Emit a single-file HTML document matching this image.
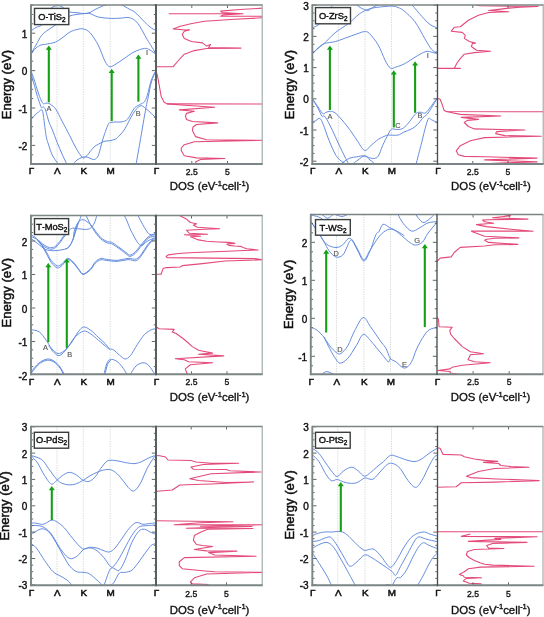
<!DOCTYPE html>
<html><head><meta charset="utf-8"><style>
html,body{margin:0;padding:0;background:#fff;}
body{width:544px;height:617px;position:relative;overflow:hidden;}
</style></head><body>
<svg width="544" height="617" viewBox="0 0 544 617" style="position:absolute;left:0;top:0;filter:blur(0.3px)">
<rect width="544" height="617" fill="#fff"/>
<clipPath id="cbA"><rect x="31.0" y="5.0" width="125.0" height="159.0"/></clipPath>
<clipPath id="cdA"><rect x="156.0" y="5.0" width="106.2" height="159.0"/></clipPath>
<line x1="57.0" y1="5.0" x2="57.0" y2="164.0" stroke="#cdd3d3" stroke-width="0.9" stroke-dasharray="1.2,1.2"/>
<line x1="83.3" y1="5.0" x2="83.3" y2="164.0" stroke="#cdd3d3" stroke-width="0.9" stroke-dasharray="1.2,1.2"/>
<line x1="110.2" y1="5.0" x2="110.2" y2="164.0" stroke="#cdd3d3" stroke-width="0.9" stroke-dasharray="1.2,1.2"/>
<g clip-path="url(#cbA)" fill="none" stroke="#628ade" stroke-width="0.98" stroke-linecap="round" stroke-linejoin="round">
<path d="M31.0,53.8 C31.8,52.8 34.3,49.5 36.0,48.0 C37.7,46.5 39.4,45.6 41.0,45.0 C42.6,44.4 43.3,44.8 45.7,44.3 C48.1,43.8 52.5,43.2 55.2,42.2 C57.9,41.2 59.5,39.7 62.0,38.0 C64.5,36.3 67.5,33.4 70.0,32.0 C72.5,30.6 74.8,30.0 77.0,29.5 C79.2,29.0 81.0,28.4 83.2,28.9 C85.4,29.4 87.5,30.0 90.0,32.7 C92.5,35.4 95.7,40.2 98.2,45.0 C100.7,49.8 103.1,57.7 105.0,61.3 C106.9,64.9 108.0,66.3 109.8,66.8 C111.6,67.2 113.6,65.4 116.0,64.0 C118.4,62.6 121.0,60.6 124.0,58.6 C127.0,56.6 130.6,53.7 134.0,52.0 C137.4,50.3 141.8,48.7 144.5,48.4 C147.2,48.1 148.1,49.0 150.0,50.0 C151.9,51.0 155.1,53.8 156.1,54.5"/>
<path d="M31.0,31.0 C31.8,30.4 34.2,28.5 36.0,27.5 C37.8,26.5 39.9,26.6 41.6,25.2 C43.3,23.8 44.7,21.3 46.0,19.0 C47.3,16.7 48.5,13.4 49.5,11.5 C50.5,9.6 50.7,8.4 52.0,7.4 C53.3,6.4 55.6,5.8 57.3,5.7 C59.0,5.6 60.1,5.8 62.0,6.8 C63.9,7.8 66.3,10.6 68.6,11.6 C70.9,12.6 73.4,12.3 76.0,12.6 C78.6,12.9 81.7,13.4 84.0,13.6 C86.3,13.8 87.6,13.0 90.0,13.6 C92.4,14.2 94.8,16.2 98.2,17.0 C101.6,17.8 106.8,18.2 110.4,18.4 C114.0,18.6 116.8,18.3 120.0,18.2 C123.2,18.1 126.5,16.9 129.5,17.7 C132.4,18.5 134.8,19.6 137.7,23.2 C140.6,26.8 144.1,34.4 147.2,39.5 C150.3,44.6 154.6,51.4 156.1,53.8"/>
<path d="M31.0,53.8 C31.8,52.3 34.2,48.1 36.0,45.0 C37.8,41.9 39.6,37.9 41.6,35.4 C43.6,32.9 45.7,31.7 48.0,30.0 C50.3,28.3 52.9,26.9 55.2,25.2 C57.5,23.5 59.7,21.5 62.0,20.0 C64.3,18.5 66.6,17.2 68.9,16.3 C71.2,15.4 73.5,14.9 76.0,14.5 C78.5,14.1 81.7,13.9 84.0,13.6 C86.3,13.3 88.2,13.2 90.0,12.5 C91.8,11.8 93.2,10.4 95.0,9.5 C96.8,8.6 99.4,7.5 100.9,6.8 C102.4,6.1 102.9,5.9 104.0,5.5 C105.1,5.1 107.1,4.8 107.7,4.6"/>
<path d="M120.0,4.2 C120.5,4.4 121.2,4.5 122.7,5.3 C124.2,6.1 127.0,7.8 129.0,9.0 C131.1,10.2 132.4,10.2 135.0,12.3 C137.6,14.4 142.0,19.4 144.5,21.8 C147.0,24.2 148.1,25.5 150.0,27.0 C151.9,28.5 155.0,30.1 156.0,30.7"/>
<path d="M31.0,70.6 C31.2,71.3 31.9,73.4 32.5,75.0 C33.0,76.6 33.4,77.2 34.3,80.0 C35.2,82.8 36.9,88.7 38.0,92.0 C39.1,95.3 40.1,98.0 41.0,100.0 C41.9,102.0 42.5,103.2 43.3,103.7 C44.1,104.2 45.1,103.2 46.0,103.2 C46.9,103.2 47.9,103.0 48.9,103.4 C49.9,103.8 50.8,104.5 52.0,105.5 C53.2,106.5 54.2,106.7 55.9,109.3 C57.6,111.9 59.7,116.6 62.0,121.0 C64.3,125.4 67.5,131.3 69.8,135.8 C72.1,140.3 73.9,144.4 76.0,148.0 C78.1,151.6 80.7,156.0 82.4,157.4 C84.1,158.8 84.7,157.4 86.0,156.5 C87.3,155.6 88.7,153.4 90.0,151.8 C91.3,150.2 92.6,148.3 94.0,147.0 C95.4,145.7 96.7,145.1 98.4,144.2 C100.1,143.3 102.2,142.0 104.0,141.4 C105.8,140.8 107.7,141.0 109.5,140.7 C111.3,140.3 113.3,140.2 115.1,139.3 C116.8,138.4 118.4,136.8 120.0,135.0 C121.6,133.2 122.7,132.4 124.9,128.8 C127.1,125.2 130.6,117.3 133.2,113.5 C135.8,109.7 138.1,106.6 140.2,105.8 C142.3,105.0 143.9,107.3 145.8,108.6 C147.7,109.9 149.7,111.9 151.4,113.5 C153.1,115.1 155.2,117.2 156.0,118.0"/>
<path d="M72.6,164.5 C73.3,163.8 75.4,161.2 77.0,160.0 C78.6,158.8 80.9,157.9 82.4,157.4 C83.9,156.9 84.7,156.7 86.0,156.8 C87.3,156.9 88.6,157.8 90.0,158.2 C91.4,158.6 92.8,160.0 94.2,159.5 C95.6,159.0 97.0,158.6 98.4,155.3 C99.8,152.1 101.0,145.1 102.6,140.0 C104.2,134.9 106.7,127.5 108.1,124.6 C109.5,121.7 109.6,122.9 110.9,122.5 C112.2,122.1 114.1,122.1 116.0,122.0 C117.9,121.9 120.1,122.3 122.1,121.8 C124.0,121.3 125.6,121.3 127.7,119.0 C129.8,116.7 132.5,110.3 134.6,107.9 C136.7,105.5 138.3,105.8 140.2,104.4 C142.1,103.0 143.9,103.6 145.8,99.5 C147.7,95.4 149.7,84.8 151.4,80.0 C153.1,75.2 155.2,72.2 156.0,70.6"/>
<path d="M136.0,164.5 C136.7,160.8 138.5,150.6 140.0,142.0 C141.5,133.4 143.7,120.3 145.0,113.0 C146.3,105.7 146.9,103.2 148.0,98.0 C149.1,92.8 150.1,86.6 151.4,82.0 C152.7,77.4 155.2,72.5 156.0,70.6"/>
<path d="M31.0,70.6 C31.2,71.8 31.7,75.8 32.2,78.0 C32.7,80.2 33.2,81.2 34.0,84.0 C34.8,86.8 35.8,91.1 37.0,95.0 C38.2,98.9 40.2,105.2 41.2,107.2 C42.2,109.2 42.6,106.3 43.3,106.8 C44.0,107.3 44.6,107.5 45.5,110.0 C46.4,112.5 47.8,118.6 48.9,121.8 C50.0,125.0 50.6,125.5 52.0,129.0 C53.4,132.5 55.6,138.6 57.3,142.8 C59.0,147.0 60.4,150.4 62.0,154.0 C63.6,157.6 66.2,162.8 67.0,164.5"/>
<path d="M31.0,119.7 C31.7,118.9 33.8,116.3 35.0,115.0 C36.2,113.7 37.5,112.8 38.5,112.0 C39.5,111.2 40.5,109.8 41.2,110.0 C42.0,110.2 42.2,108.7 43.0,113.0 C43.8,117.3 45.1,130.3 46.1,135.8 C47.1,141.3 48.1,143.0 49.0,146.0 C49.9,149.0 50.7,151.7 51.7,153.9 C52.7,156.2 53.8,157.7 55.0,159.5 C56.2,161.3 58.1,163.7 58.7,164.5"/>
</g>
<g clip-path="url(#cdA)" fill="none" stroke="#e34a7a" stroke-width="1.1" stroke-linejoin="round">
<path d="M156.0,66.7 L173.2,66.7 L178.0,61.0 L184.3,54.2 L194.4,50.6 L206.6,48.5 L241.0,48.1 L208.6,47.5 L210.6,44.5 L206.6,46.1 L202.5,42.9 L191.4,41.5 L184.3,38.4 L182.3,34.4 L184.3,31.3 L189.4,29.9 L185.0,30.0 L173.2,28.9 L180.3,26.3 L192.0,23.5 L204.6,21.2 L234.9,19.2 L262.5,17.8"/>
<path d="M262.5,16.2 L220.7,16.2 L223.0,15.0 L243.0,13.8 L169.2,13.8 L243.0,13.8 L222.0,12.5 L220.7,11.1 L240.0,9.5 L262.5,8.1"/>
<path d="M156.0,70.8 L157.5,76.0 L159.0,84.0 L161.1,96.2 L164.1,102.2 L167.0,103.9 L262.5,104.0"/>
<path d="M167.0,103.9 L185.3,105.3 L214.7,107.3 L179.3,109.9 L194.4,111.3 L186.4,113.4 L185.5,116.0 L186.4,119.4 L192.4,121.5 L217.7,122.9 L196.5,124.5 L193.0,127.0 L192.4,130.6 L195.5,136.6 L206.6,139.7 L262.5,140.3 L194.4,141.7 L184.3,144.7 L181.3,148.0 L181.3,150.8 L184.3,155.8 L196.5,157.9 L224.8,158.5 L200.5,159.5 L195.5,161.9 L196.5,164.5"/>
</g>
<line x1="31.0" y1="154.8" x2="33.2" y2="154.8" stroke="#505858" stroke-width="0.9"/>
<line x1="153.8" y1="154.8" x2="156.0" y2="154.8" stroke="#505858" stroke-width="0.9"/>
<line x1="31.0" y1="145.4" x2="35.2" y2="145.4" stroke="#505858" stroke-width="0.9"/>
<line x1="151.8" y1="145.4" x2="156.0" y2="145.4" stroke="#505858" stroke-width="0.9"/>
<line x1="31.0" y1="136.1" x2="33.2" y2="136.1" stroke="#505858" stroke-width="0.9"/>
<line x1="153.8" y1="136.1" x2="156.0" y2="136.1" stroke="#505858" stroke-width="0.9"/>
<line x1="31.0" y1="126.7" x2="33.2" y2="126.7" stroke="#505858" stroke-width="0.9"/>
<line x1="153.8" y1="126.7" x2="156.0" y2="126.7" stroke="#505858" stroke-width="0.9"/>
<line x1="31.0" y1="117.3" x2="33.2" y2="117.3" stroke="#505858" stroke-width="0.9"/>
<line x1="153.8" y1="117.3" x2="156.0" y2="117.3" stroke="#505858" stroke-width="0.9"/>
<line x1="31.0" y1="108.0" x2="35.2" y2="108.0" stroke="#505858" stroke-width="0.9"/>
<line x1="151.8" y1="108.0" x2="156.0" y2="108.0" stroke="#505858" stroke-width="0.9"/>
<line x1="31.0" y1="98.6" x2="33.2" y2="98.6" stroke="#505858" stroke-width="0.9"/>
<line x1="153.8" y1="98.6" x2="156.0" y2="98.6" stroke="#505858" stroke-width="0.9"/>
<line x1="31.0" y1="89.3" x2="33.2" y2="89.3" stroke="#505858" stroke-width="0.9"/>
<line x1="153.8" y1="89.3" x2="156.0" y2="89.3" stroke="#505858" stroke-width="0.9"/>
<line x1="31.0" y1="79.9" x2="33.2" y2="79.9" stroke="#505858" stroke-width="0.9"/>
<line x1="153.8" y1="79.9" x2="156.0" y2="79.9" stroke="#505858" stroke-width="0.9"/>
<line x1="31.0" y1="70.6" x2="35.2" y2="70.6" stroke="#505858" stroke-width="0.9"/>
<line x1="151.8" y1="70.6" x2="156.0" y2="70.6" stroke="#505858" stroke-width="0.9"/>
<line x1="31.0" y1="61.2" x2="33.2" y2="61.2" stroke="#505858" stroke-width="0.9"/>
<line x1="153.8" y1="61.2" x2="156.0" y2="61.2" stroke="#505858" stroke-width="0.9"/>
<line x1="31.0" y1="51.9" x2="33.2" y2="51.9" stroke="#505858" stroke-width="0.9"/>
<line x1="153.8" y1="51.9" x2="156.0" y2="51.9" stroke="#505858" stroke-width="0.9"/>
<line x1="31.0" y1="42.5" x2="33.2" y2="42.5" stroke="#505858" stroke-width="0.9"/>
<line x1="153.8" y1="42.5" x2="156.0" y2="42.5" stroke="#505858" stroke-width="0.9"/>
<line x1="31.0" y1="33.2" x2="35.2" y2="33.2" stroke="#505858" stroke-width="0.9"/>
<line x1="151.8" y1="33.2" x2="156.0" y2="33.2" stroke="#505858" stroke-width="0.9"/>
<line x1="31.0" y1="23.8" x2="33.2" y2="23.8" stroke="#505858" stroke-width="0.9"/>
<line x1="153.8" y1="23.8" x2="156.0" y2="23.8" stroke="#505858" stroke-width="0.9"/>
<line x1="31.0" y1="14.5" x2="33.2" y2="14.5" stroke="#505858" stroke-width="0.9"/>
<line x1="153.8" y1="14.5" x2="156.0" y2="14.5" stroke="#505858" stroke-width="0.9"/>
<line x1="31.0" y1="5.1" x2="33.2" y2="5.1" stroke="#505858" stroke-width="0.9"/>
<line x1="153.8" y1="5.1" x2="156.0" y2="5.1" stroke="#505858" stroke-width="0.9"/>
<line x1="191.8" y1="5.0" x2="191.8" y2="8.0" stroke="#505858" stroke-width="0.9"/>
<line x1="191.8" y1="164.0" x2="191.8" y2="161.0" stroke="#505858" stroke-width="0.9"/>
<line x1="227.5" y1="5.0" x2="227.5" y2="8.0" stroke="#505858" stroke-width="0.9"/>
<line x1="227.5" y1="164.0" x2="227.5" y2="161.0" stroke="#505858" stroke-width="0.9"/>
<line x1="31.0" y1="5.0" x2="262.7" y2="5.0" stroke="#7b8585" stroke-width="1.4"/>
<line x1="262.2" y1="5.0" x2="262.2" y2="164.0" stroke="#9aa4a4" stroke-width="1.1"/>
<line x1="30.1" y1="164.0" x2="262.7" y2="164.0" stroke="#7b8585" stroke-width="1.9"/>
<line x1="31.0" y1="4.3" x2="31.0" y2="164.9" stroke="#7b8585" stroke-width="1.9"/>
<line x1="156.0" y1="4.3" x2="156.0" y2="164.9" stroke="#57605f" stroke-width="2.00"/>
<line x1="48.8" y1="102.3" x2="48.8" y2="48.6" stroke="#14a014" stroke-width="2.1"/>
<path d="M48.8,45.6 L45.8,49.8 L51.8,49.8 Z" fill="#14a014"/>
<line x1="111.7" y1="121.1" x2="111.7" y2="71.8" stroke="#14a014" stroke-width="2.1"/>
<path d="M111.7,68.8 L108.7,73.0 L114.7,73.0 Z" fill="#14a014"/>
<line x1="138.4" y1="101.6" x2="138.4" y2="57.5" stroke="#14a014" stroke-width="2.1"/>
<path d="M138.4,54.5 L135.4,58.7 L141.4,58.7 Z" fill="#14a014"/>
<text x="48.9" y="110.9" font-size="7.4" fill="#555" stroke="#555" stroke-width="0.15" text-anchor="middle" font-family="'Liberation Sans', Arial, Helvetica, sans-serif">A</text>
<text x="138.3" y="115.9" font-size="7.4" fill="#555" stroke="#555" stroke-width="0.15" text-anchor="middle" font-family="'Liberation Sans', Arial, Helvetica, sans-serif">B</text>
<text x="147.0" y="55.1" font-size="7.4" fill="#555" stroke="#555" stroke-width="0.15" text-anchor="middle" font-family="'Liberation Sans', Arial, Helvetica, sans-serif">I</text>
<rect x="34.5" y="8.4" width="34.3" height="16.2" fill="#fff" stroke="#3a3e3e" stroke-width="1.4"/>
<text x="51.9" y="19.6" font-size="9.3" fill="#111" stroke="#111" stroke-width="0.42" text-anchor="middle" font-family="'Liberation Sans', Arial, Helvetica, sans-serif">O<tspan font-size="7" dx="0.2" dy="-0.6">-</tspan><tspan dx="0.2" dy="0.6">TiS</tspan><tspan font-size="6.4" dy="2">2</tspan></text>
<text x="27.4" y="37.7" font-size="10" fill="#111" stroke="#111" stroke-width="0.4" text-anchor="end" font-family="'Liberation Sans', Arial, Helvetica, sans-serif">1</text>
<text x="27.4" y="75.1" font-size="10" fill="#111" stroke="#111" stroke-width="0.4" text-anchor="end" font-family="'Liberation Sans', Arial, Helvetica, sans-serif">0</text>
<text x="27.4" y="112.5" font-size="10" fill="#111" stroke="#111" stroke-width="0.4" text-anchor="end" font-family="'Liberation Sans', Arial, Helvetica, sans-serif">-1</text>
<text x="27.4" y="149.9" font-size="10" fill="#111" stroke="#111" stroke-width="0.4" text-anchor="end" font-family="'Liberation Sans', Arial, Helvetica, sans-serif">-2</text>
<text x="31.4" y="174.1" font-size="9.9" fill="#111" stroke="#111" stroke-width="0.55" text-anchor="middle" font-family="'Liberation Sans', Arial, Helvetica, sans-serif">Γ</text>
<text x="57.4" y="174.1" font-size="9.9" fill="#111" stroke="#111" stroke-width="0.55" text-anchor="middle" font-family="'Liberation Sans', Arial, Helvetica, sans-serif">Λ</text>
<text x="83.7" y="174.1" font-size="9.9" fill="#111" stroke="#111" stroke-width="0.55" text-anchor="middle" font-family="'Liberation Sans', Arial, Helvetica, sans-serif">K</text>
<text x="110.6" y="174.1" font-size="9.9" fill="#111" stroke="#111" stroke-width="0.55" text-anchor="middle" font-family="'Liberation Sans', Arial, Helvetica, sans-serif">M</text>
<text x="156.4" y="174.1" font-size="9.9" fill="#111" stroke="#111" stroke-width="0.55" text-anchor="middle" font-family="'Liberation Sans', Arial, Helvetica, sans-serif">Γ</text>
<text x="191.8" y="174.6" font-size="8.6" fill="#111" stroke="#111" stroke-width="0.35" text-anchor="middle" font-family="'Liberation Sans', Arial, Helvetica, sans-serif">2.5</text>
<text x="227.5" y="174.6" font-size="8.6" fill="#111" stroke="#111" stroke-width="0.35" text-anchor="middle" font-family="'Liberation Sans', Arial, Helvetica, sans-serif">5</text>
<text x="209.6" y="190.0" font-size="11.4" fill="#111" stroke="#111" stroke-width="0.35" text-anchor="middle" font-family="'Liberation Sans', Arial, Helvetica, sans-serif">DOS (eV<tspan font-size="7" dy="-4.5">-</tspan><tspan font-size="7.6">1</tspan><tspan dy="4.5">cell</tspan><tspan font-size="7" dy="-4.5">-</tspan><tspan font-size="7.6">1</tspan><tspan dy="4.5">)</tspan></text>
<text transform="translate(10.7,84.5) rotate(-90)" font-size="13" fill="#111" stroke="#111" stroke-width="0.5" text-anchor="middle" font-family="'Liberation Sans', Arial, Helvetica, sans-serif">Energy (eV)</text>
<clipPath id="cbB"><rect x="312.3" y="5.0" width="125.2" height="159.0"/></clipPath>
<clipPath id="cdB"><rect x="437.5" y="5.0" width="105.7" height="159.0"/></clipPath>
<line x1="338.3" y1="5.0" x2="338.3" y2="164.0" stroke="#cdd3d3" stroke-width="0.9" stroke-dasharray="1.2,1.2"/>
<line x1="365.0" y1="5.0" x2="365.0" y2="164.0" stroke="#cdd3d3" stroke-width="0.9" stroke-dasharray="1.2,1.2"/>
<line x1="391.5" y1="5.0" x2="391.5" y2="164.0" stroke="#cdd3d3" stroke-width="0.9" stroke-dasharray="1.2,1.2"/>
<g clip-path="url(#cbB)" fill="none" stroke="#628ade" stroke-width="0.98" stroke-linecap="round" stroke-linejoin="round">
<path d="M312.3,53.8 C313.2,52.8 316.0,49.7 318.0,48.0 C320.0,46.3 321.4,44.7 324.3,43.6 C327.2,42.5 331.1,42.7 335.2,41.6 C339.3,40.5 345.1,38.1 348.9,36.8 C352.7,35.4 355.4,34.4 358.0,33.5 C360.6,32.6 362.6,31.6 364.5,31.6 C366.4,31.6 367.0,31.2 369.3,33.4 C371.6,35.6 375.6,40.6 378.2,45.0 C380.8,49.4 383.0,56.1 385.0,60.0 C387.0,63.9 388.6,66.9 390.4,68.1 C392.2,69.3 393.7,67.7 396.0,67.0 C398.3,66.3 400.9,65.6 404.1,64.0 C407.3,62.4 411.4,59.3 415.0,57.2 C418.6,55.1 422.9,52.3 425.9,51.5 C428.8,50.7 430.8,52.1 432.7,52.5 C434.6,52.9 436.7,53.6 437.5,53.8"/>
<path d="M312.3,53.8 C313.2,52.9 316.0,50.2 318.0,48.5 C320.0,46.8 321.4,45.9 324.3,43.3 C327.2,40.7 331.1,36.1 335.2,32.7 C339.3,29.4 345.1,26.1 348.9,23.2 C352.7,20.2 355.4,17.1 358.0,15.0 C360.6,12.9 362.3,12.0 364.5,10.9 C366.7,9.8 368.7,9.0 371.0,8.4 C373.3,7.8 374.7,7.6 378.2,7.2 C381.7,6.8 388.5,6.0 391.8,6.1 C395.1,6.1 395.9,6.7 398.0,7.5 C400.1,8.3 401.3,8.5 404.1,10.9 C406.9,13.3 411.6,17.3 415.0,21.8 C418.4,26.3 421.8,33.6 424.5,38.1 C427.2,42.6 429.1,46.4 431.3,49.0 C433.5,51.6 436.5,53.0 437.5,53.8"/>
<path d="M312.3,27.9 C313.4,27.3 316.8,26.3 318.9,24.5 C321.0,22.7 323.1,19.6 325.0,17.0 C326.9,14.4 328.8,10.9 330.0,9.0 C331.2,7.1 331.7,6.2 332.5,5.4 C333.3,4.6 334.6,4.2 335.0,4.0"/>
<path d="M355.0,3.5 C355.3,3.8 356.0,4.5 357.0,5.2 C358.0,6.0 359.8,7.3 361.0,8.0 C362.2,8.7 363.3,9.1 364.5,9.5 C365.7,9.9 367.0,10.6 368.0,10.5 C369.0,10.4 369.7,9.5 370.7,8.9 C371.7,8.3 373.0,7.4 374.0,6.8 C375.0,6.2 375.8,5.9 376.8,5.4 C377.8,4.9 379.5,4.2 380.0,4.0"/>
<path d="M410.0,3.5 C410.4,3.8 410.2,3.1 412.2,5.2 C414.2,7.3 418.8,13.1 421.8,16.3 C424.8,19.5 427.4,22.6 430.0,24.5 C432.6,26.4 436.2,27.3 437.5,27.9"/>
<path d="M312.3,98.8 C313.0,99.7 314.7,102.0 316.4,104.4 C318.1,106.9 321.0,112.2 322.6,113.5 C324.2,114.8 324.7,112.6 326.0,112.3 C327.3,112.0 328.7,111.2 330.3,111.4 C331.9,111.6 333.1,111.1 335.9,113.5 C338.7,115.9 343.5,121.6 347.0,126.0 C350.5,130.4 353.9,135.9 356.8,140.0 C359.7,144.1 362.2,149.5 364.5,150.4 C366.8,151.3 368.5,147.4 370.8,145.6 C373.1,143.8 376.2,140.8 378.4,139.3 C380.6,137.8 382.4,137.2 384.0,136.5 C385.6,135.8 385.8,135.3 388.1,135.1 C390.4,134.9 395.3,135.6 397.9,135.1 C400.5,134.6 401.2,133.4 403.5,132.3 C405.8,131.2 409.5,130.1 411.8,128.8 C414.1,127.5 415.5,126.4 417.4,124.6 C419.3,122.8 421.4,119.4 423.0,117.7 C424.6,116.0 425.8,115.8 427.2,114.2 C428.6,112.6 429.8,110.5 431.4,107.9 C433.0,105.3 436.1,100.3 437.0,98.8"/>
<path d="M312.3,98.8 C313.2,100.3 316.2,105.0 317.8,107.9 C319.4,110.8 320.9,114.9 322.0,116.3 C323.1,117.7 323.3,114.7 324.7,116.3 C326.1,117.9 327.7,120.9 330.3,126.0 C332.9,131.1 337.3,141.2 340.1,147.0 C342.9,152.8 345.4,158.0 347.0,160.9 C348.6,163.8 349.3,163.9 349.8,164.5"/>
<path d="M340.0,164.5 C340.8,163.9 343.3,162.1 345.0,161.0 C346.7,159.9 348.0,158.7 350.0,158.0 C352.0,157.3 354.4,157.2 356.8,156.8 C359.2,156.4 362.3,155.6 364.5,155.8 C366.7,156.0 368.4,157.6 370.0,158.0 C371.6,158.4 372.8,158.7 374.2,158.4 C375.6,158.1 377.0,158.1 378.4,156.0 C379.8,153.9 381.0,149.2 382.6,145.6 C384.2,142.0 386.6,137.2 388.1,134.4 C389.6,131.7 390.2,129.9 391.6,129.1 C393.0,128.3 394.8,129.6 396.5,129.5 C398.2,129.4 400.2,129.7 402.1,128.8 C404.0,127.9 405.6,126.2 407.7,123.9 C409.8,121.6 412.9,116.8 414.6,114.9 C416.3,113.0 416.9,112.8 418.1,112.4 C419.3,112.0 420.3,112.3 421.6,112.4 C422.9,112.5 424.2,113.9 425.8,112.8 C427.4,111.7 429.5,108.2 431.4,105.8 C433.3,103.3 436.1,99.4 437.0,98.1"/>
<path d="M312.3,122.5 C312.9,122.2 314.7,121.2 316.0,120.5 C317.3,119.8 318.7,117.7 319.9,118.4 C321.1,119.1 321.8,121.0 323.3,124.6 C324.8,128.2 326.8,134.9 328.9,140.0 C331.0,145.1 333.6,151.6 335.9,155.3 C338.2,159.0 340.8,160.8 342.9,162.3 C345.0,163.8 347.5,164.1 348.4,164.5"/>
<path d="M352.0,164.5 C353.0,163.8 355.9,161.4 358.0,160.0 C360.1,158.6 362.5,156.0 364.5,156.0 C366.5,156.0 368.1,158.6 370.0,160.0 C371.9,161.4 374.7,163.8 375.6,164.5"/>
<path d="M416.0,164.5 C416.9,160.9 420.0,149.2 421.6,142.8 C423.2,136.4 424.6,130.1 425.8,126.0 C427.0,121.9 427.7,119.5 428.6,118.4 C429.5,117.4 430.0,119.0 431.4,119.7 C432.8,120.4 436.1,122.0 437.0,122.5"/>
</g>
<g clip-path="url(#cdB)" fill="none" stroke="#e34a7a" stroke-width="1.1" stroke-linejoin="round">
<path d="M437.5,68.4 L460.3,68.4 L454.2,68.4 L457.0,63.0 L460.3,58.6 L464.3,54.2 L474.4,52.6 L490.6,51.2 L476.5,50.2 L471.4,46.5 L472.4,43.5 L475.5,43.1 L469.4,41.5 L464.3,38.4 L465.3,35.4 L462.3,32.4 L451.2,31.3 L454.2,27.3 L460.3,26.7 L468.4,20.2 L478.5,15.2 L488.6,12.5 L508.8,11.7 L488.6,10.5 L500.7,9.1 L508.8,8.1 L520.0,7.2 L538.1,6.5 L480.0,5.8 L476.5,5.2"/>
<path d="M437.5,98.2 L440.1,99.2 L442.1,104.3 L444.1,110.3 L446.1,111.5 L543.0,111.8"/>
<path d="M446.1,111.5 L460.3,114.4 L500.7,116.0 L461.3,117.4 L478.5,119.4 L467.4,120.4 L464.3,122.5 L468.4,126.5 L474.4,128.9 L525.0,130.0 L496.7,131.6 L495.7,133.6 L504.8,135.6 L541.2,136.2 L484.6,137.6 L470.4,140.7 L460.3,145.7 L456.2,150.8 L458.3,154.8 L464.3,156.4 L484.6,156.8 L537.1,158.1 L484.6,159.9 L537.1,161.9 L500.0,163.0 L480.0,164.0"/>
</g>
<line x1="312.3" y1="161.2" x2="316.5" y2="161.2" stroke="#505858" stroke-width="0.9"/>
<line x1="433.3" y1="161.2" x2="437.5" y2="161.2" stroke="#505858" stroke-width="0.9"/>
<line x1="312.3" y1="153.4" x2="314.5" y2="153.4" stroke="#505858" stroke-width="0.9"/>
<line x1="435.3" y1="153.4" x2="437.5" y2="153.4" stroke="#505858" stroke-width="0.9"/>
<line x1="312.3" y1="145.6" x2="314.5" y2="145.6" stroke="#505858" stroke-width="0.9"/>
<line x1="435.3" y1="145.6" x2="437.5" y2="145.6" stroke="#505858" stroke-width="0.9"/>
<line x1="312.3" y1="137.8" x2="314.5" y2="137.8" stroke="#505858" stroke-width="0.9"/>
<line x1="435.3" y1="137.8" x2="437.5" y2="137.8" stroke="#505858" stroke-width="0.9"/>
<line x1="312.3" y1="130.0" x2="316.5" y2="130.0" stroke="#505858" stroke-width="0.9"/>
<line x1="433.3" y1="130.0" x2="437.5" y2="130.0" stroke="#505858" stroke-width="0.9"/>
<line x1="312.3" y1="122.2" x2="314.5" y2="122.2" stroke="#505858" stroke-width="0.9"/>
<line x1="435.3" y1="122.2" x2="437.5" y2="122.2" stroke="#505858" stroke-width="0.9"/>
<line x1="312.3" y1="114.4" x2="314.5" y2="114.4" stroke="#505858" stroke-width="0.9"/>
<line x1="435.3" y1="114.4" x2="437.5" y2="114.4" stroke="#505858" stroke-width="0.9"/>
<line x1="312.3" y1="106.6" x2="314.5" y2="106.6" stroke="#505858" stroke-width="0.9"/>
<line x1="435.3" y1="106.6" x2="437.5" y2="106.6" stroke="#505858" stroke-width="0.9"/>
<line x1="312.3" y1="98.8" x2="316.5" y2="98.8" stroke="#505858" stroke-width="0.9"/>
<line x1="433.3" y1="98.8" x2="437.5" y2="98.8" stroke="#505858" stroke-width="0.9"/>
<line x1="312.3" y1="91.0" x2="314.5" y2="91.0" stroke="#505858" stroke-width="0.9"/>
<line x1="435.3" y1="91.0" x2="437.5" y2="91.0" stroke="#505858" stroke-width="0.9"/>
<line x1="312.3" y1="83.2" x2="314.5" y2="83.2" stroke="#505858" stroke-width="0.9"/>
<line x1="435.3" y1="83.2" x2="437.5" y2="83.2" stroke="#505858" stroke-width="0.9"/>
<line x1="312.3" y1="75.4" x2="314.5" y2="75.4" stroke="#505858" stroke-width="0.9"/>
<line x1="435.3" y1="75.4" x2="437.5" y2="75.4" stroke="#505858" stroke-width="0.9"/>
<line x1="312.3" y1="67.6" x2="316.5" y2="67.6" stroke="#505858" stroke-width="0.9"/>
<line x1="433.3" y1="67.6" x2="437.5" y2="67.6" stroke="#505858" stroke-width="0.9"/>
<line x1="312.3" y1="59.8" x2="314.5" y2="59.8" stroke="#505858" stroke-width="0.9"/>
<line x1="435.3" y1="59.8" x2="437.5" y2="59.8" stroke="#505858" stroke-width="0.9"/>
<line x1="312.3" y1="52.0" x2="314.5" y2="52.0" stroke="#505858" stroke-width="0.9"/>
<line x1="435.3" y1="52.0" x2="437.5" y2="52.0" stroke="#505858" stroke-width="0.9"/>
<line x1="312.3" y1="44.2" x2="314.5" y2="44.2" stroke="#505858" stroke-width="0.9"/>
<line x1="435.3" y1="44.2" x2="437.5" y2="44.2" stroke="#505858" stroke-width="0.9"/>
<line x1="312.3" y1="36.4" x2="316.5" y2="36.4" stroke="#505858" stroke-width="0.9"/>
<line x1="433.3" y1="36.4" x2="437.5" y2="36.4" stroke="#505858" stroke-width="0.9"/>
<line x1="312.3" y1="28.6" x2="314.5" y2="28.6" stroke="#505858" stroke-width="0.9"/>
<line x1="435.3" y1="28.6" x2="437.5" y2="28.6" stroke="#505858" stroke-width="0.9"/>
<line x1="312.3" y1="20.8" x2="314.5" y2="20.8" stroke="#505858" stroke-width="0.9"/>
<line x1="435.3" y1="20.8" x2="437.5" y2="20.8" stroke="#505858" stroke-width="0.9"/>
<line x1="312.3" y1="13.0" x2="314.5" y2="13.0" stroke="#505858" stroke-width="0.9"/>
<line x1="435.3" y1="13.0" x2="437.5" y2="13.0" stroke="#505858" stroke-width="0.9"/>
<line x1="312.3" y1="5.2" x2="316.5" y2="5.2" stroke="#505858" stroke-width="0.9"/>
<line x1="433.3" y1="5.2" x2="437.5" y2="5.2" stroke="#505858" stroke-width="0.9"/>
<line x1="472.8" y1="5.0" x2="472.8" y2="8.0" stroke="#505858" stroke-width="0.9"/>
<line x1="472.8" y1="164.0" x2="472.8" y2="161.0" stroke="#505858" stroke-width="0.9"/>
<line x1="508.0" y1="5.0" x2="508.0" y2="8.0" stroke="#505858" stroke-width="0.9"/>
<line x1="508.0" y1="164.0" x2="508.0" y2="161.0" stroke="#505858" stroke-width="0.9"/>
<line x1="312.3" y1="5.0" x2="543.7" y2="5.0" stroke="#7b8585" stroke-width="1.4"/>
<line x1="543.2" y1="5.0" x2="543.2" y2="164.0" stroke="#9aa4a4" stroke-width="1.1"/>
<line x1="311.4" y1="164.0" x2="543.7" y2="164.0" stroke="#7b8585" stroke-width="1.9"/>
<line x1="312.3" y1="4.3" x2="312.3" y2="164.9" stroke="#7b8585" stroke-width="1.9"/>
<line x1="437.5" y1="4.3" x2="437.5" y2="164.9" stroke="#475050" stroke-width="1.35"/>
<line x1="329.9" y1="110.0" x2="329.9" y2="48.6" stroke="#14a014" stroke-width="2.1"/>
<path d="M329.9,45.6 L326.9,49.8 L332.9,49.8 Z" fill="#14a014"/>
<line x1="393.8" y1="127.4" x2="393.8" y2="73.2" stroke="#14a014" stroke-width="2.1"/>
<path d="M393.8,70.2 L390.8,74.4 L396.8,74.4 Z" fill="#14a014"/>
<line x1="415.1" y1="112.8" x2="415.1" y2="64.3" stroke="#14a014" stroke-width="2.1"/>
<path d="M415.1,61.3 L412.1,65.5 L418.1,65.5 Z" fill="#14a014"/>
<text x="329.9" y="119.4" font-size="7.4" fill="#555" stroke="#555" stroke-width="0.15" text-anchor="middle" font-family="'Liberation Sans', Arial, Helvetica, sans-serif">A</text>
<text x="397.9" y="128.1" font-size="7.4" fill="#555" stroke="#555" stroke-width="0.15" text-anchor="middle" font-family="'Liberation Sans', Arial, Helvetica, sans-serif">C</text>
<text x="419.9" y="118.4" font-size="7.4" fill="#555" stroke="#555" stroke-width="0.15" text-anchor="middle" font-family="'Liberation Sans', Arial, Helvetica, sans-serif">B</text>
<text x="427.9" y="57.6" font-size="7.4" fill="#555" stroke="#555" stroke-width="0.15" text-anchor="middle" font-family="'Liberation Sans', Arial, Helvetica, sans-serif">I</text>
<rect x="315.5" y="7.6" width="35.0" height="16.2" fill="#fff" stroke="#3a3e3e" stroke-width="1.4"/>
<text x="333.2" y="18.8" font-size="9.3" fill="#111" stroke="#111" stroke-width="0.42" text-anchor="middle" font-family="'Liberation Sans', Arial, Helvetica, sans-serif">O<tspan font-size="7" dx="0.2" dy="-0.6">-</tspan><tspan dx="0.2" dy="0.6">ZrS</tspan><tspan font-size="6.4" dy="2">2</tspan></text>
<text x="308.7" y="9.7" font-size="10" fill="#111" stroke="#111" stroke-width="0.4" text-anchor="end" font-family="'Liberation Sans', Arial, Helvetica, sans-serif">3</text>
<text x="308.7" y="40.9" font-size="10" fill="#111" stroke="#111" stroke-width="0.4" text-anchor="end" font-family="'Liberation Sans', Arial, Helvetica, sans-serif">2</text>
<text x="308.7" y="72.1" font-size="10" fill="#111" stroke="#111" stroke-width="0.4" text-anchor="end" font-family="'Liberation Sans', Arial, Helvetica, sans-serif">1</text>
<text x="308.7" y="103.3" font-size="10" fill="#111" stroke="#111" stroke-width="0.4" text-anchor="end" font-family="'Liberation Sans', Arial, Helvetica, sans-serif">0</text>
<text x="308.7" y="134.5" font-size="10" fill="#111" stroke="#111" stroke-width="0.4" text-anchor="end" font-family="'Liberation Sans', Arial, Helvetica, sans-serif">-1</text>
<text x="308.7" y="165.7" font-size="10" fill="#111" stroke="#111" stroke-width="0.4" text-anchor="end" font-family="'Liberation Sans', Arial, Helvetica, sans-serif">-2</text>
<text x="312.7" y="174.1" font-size="9.9" fill="#111" stroke="#111" stroke-width="0.55" text-anchor="middle" font-family="'Liberation Sans', Arial, Helvetica, sans-serif">Γ</text>
<text x="338.7" y="174.1" font-size="9.9" fill="#111" stroke="#111" stroke-width="0.55" text-anchor="middle" font-family="'Liberation Sans', Arial, Helvetica, sans-serif">Λ</text>
<text x="365.4" y="174.1" font-size="9.9" fill="#111" stroke="#111" stroke-width="0.55" text-anchor="middle" font-family="'Liberation Sans', Arial, Helvetica, sans-serif">K</text>
<text x="391.9" y="174.1" font-size="9.9" fill="#111" stroke="#111" stroke-width="0.55" text-anchor="middle" font-family="'Liberation Sans', Arial, Helvetica, sans-serif">M</text>
<text x="437.9" y="174.1" font-size="9.9" fill="#111" stroke="#111" stroke-width="0.55" text-anchor="middle" font-family="'Liberation Sans', Arial, Helvetica, sans-serif">Γ</text>
<text x="472.8" y="174.6" font-size="8.6" fill="#111" stroke="#111" stroke-width="0.35" text-anchor="middle" font-family="'Liberation Sans', Arial, Helvetica, sans-serif">2.5</text>
<text x="508.0" y="174.6" font-size="8.6" fill="#111" stroke="#111" stroke-width="0.35" text-anchor="middle" font-family="'Liberation Sans', Arial, Helvetica, sans-serif">5</text>
<text x="490.9" y="190.0" font-size="11.4" fill="#111" stroke="#111" stroke-width="0.35" text-anchor="middle" font-family="'Liberation Sans', Arial, Helvetica, sans-serif">DOS (eV<tspan font-size="7" dy="-4.5">-</tspan><tspan font-size="7.6">1</tspan><tspan dy="4.5">cell</tspan><tspan font-size="7" dy="-4.5">-</tspan><tspan font-size="7.6">1</tspan><tspan dy="4.5">)</tspan></text>
<text transform="translate(294.0,84.5) rotate(-90)" font-size="13" fill="#111" stroke="#111" stroke-width="0.5" text-anchor="middle" font-family="'Liberation Sans', Arial, Helvetica, sans-serif">Energy (eV)</text>
<clipPath id="cbC"><rect x="31.0" y="215.5" width="125.0" height="158.8"/></clipPath>
<clipPath id="cdC"><rect x="156.0" y="215.5" width="106.2" height="158.8"/></clipPath>
<line x1="57.0" y1="215.5" x2="57.0" y2="374.3" stroke="#cdd3d3" stroke-width="0.9" stroke-dasharray="1.2,1.2"/>
<line x1="83.3" y1="215.5" x2="83.3" y2="374.3" stroke="#cdd3d3" stroke-width="0.9" stroke-dasharray="1.2,1.2"/>
<line x1="110.2" y1="215.5" x2="110.2" y2="374.3" stroke="#cdd3d3" stroke-width="0.9" stroke-dasharray="1.2,1.2"/>
<g clip-path="url(#cbC)" fill="none" stroke="#628ade" stroke-width="0.98" stroke-linecap="round" stroke-linejoin="round">
<path d="M31.0,234.5 C31.7,235.0 33.8,236.4 35.0,237.3 C36.2,238.2 36.9,238.8 38.0,240.0 C39.1,241.2 40.4,242.5 41.8,244.5 C43.2,246.5 44.8,249.3 46.4,252.0 C48.0,254.7 49.4,258.2 51.2,260.5 C53.0,262.8 55.5,265.3 57.3,265.9 C59.1,266.4 60.4,265.1 62.1,263.8 C63.8,262.6 65.7,258.7 67.5,258.4 C69.3,258.1 71.2,260.1 73.0,261.8 C74.8,263.5 76.7,266.6 78.4,268.6 C80.1,270.6 81.2,274.0 83.2,274.0 C85.2,274.0 88.7,270.6 90.7,268.6 C92.7,266.6 93.7,263.5 95.4,261.8 C97.1,260.1 99.1,258.8 100.9,258.4 C102.7,258.0 103.6,259.0 106.3,259.3 C109.0,259.6 113.6,260.5 117.2,260.4 C120.8,260.2 124.9,258.6 128.1,258.4 C131.3,258.2 134.0,259.8 136.3,259.0 C138.6,258.2 140.0,255.9 141.8,253.6 C143.6,251.3 145.4,247.8 147.2,245.4 C149.0,243.0 151.2,240.4 152.7,239.3 C154.2,238.2 155.4,238.7 156.0,238.6"/>
<path d="M38.0,240.5 C38.6,241.3 40.4,243.4 41.8,245.6 C43.2,247.8 44.8,250.8 46.4,253.6 C48.0,256.4 49.4,260.0 51.2,262.4 C53.0,264.8 55.5,267.3 57.3,267.8 C59.1,268.3 60.4,266.8 62.1,265.4 C63.8,264.0 65.7,260.0 67.5,259.6 C69.3,259.2 71.2,261.2 73.0,262.8 C74.8,264.4 76.7,267.4 78.4,269.4 C80.1,271.3 81.2,274.5 83.2,274.5 C85.2,274.5 88.7,271.5 90.7,269.6 C92.7,267.7 93.7,264.6 95.4,263.0 C97.1,261.4 99.1,260.2 100.9,259.8 C102.7,259.4 103.6,260.1 106.3,260.4 C109.0,260.7 113.6,261.5 117.2,261.4 C120.8,261.3 124.9,259.7 128.1,259.6 C131.3,259.5 134.0,261.4 136.3,260.6 C138.6,259.8 140.0,257.3 141.8,255.0 C143.6,252.7 145.4,249.2 147.2,246.8 C149.0,244.4 151.2,241.6 152.7,240.5 C154.2,239.4 155.4,240.1 156.0,240.0"/>
<path d="M31.0,238.5 C32.1,239.3 35.3,241.8 37.7,243.6 C40.1,245.4 42.8,248.2 45.4,249.4 C48.0,250.6 50.6,250.6 53.2,250.7 C55.8,250.8 58.5,250.4 60.9,250.0 C63.2,249.6 65.6,249.2 67.3,248.1 C69.0,247.0 70.1,245.4 71.2,243.6 C72.3,241.8 73.0,239.6 73.8,237.2 C74.6,234.8 75.4,232.0 76.3,229.4 C77.2,226.8 78.0,224.1 78.9,221.7 C79.8,219.3 81.1,216.1 81.5,215.0"/>
<path d="M66.0,249.0 C66.4,248.8 67.5,248.5 68.4,247.6 C69.3,246.7 70.4,245.2 71.2,243.5 C72.0,241.8 72.8,239.6 73.5,237.5 C74.2,235.4 74.8,233.2 75.5,231.0 C76.2,228.8 77.2,225.2 77.5,224.0"/>
<path d="M73.5,237.5 C73.6,236.5 73.7,233.4 74.2,231.3 C74.7,229.2 75.9,226.6 76.7,224.9 C77.5,223.2 78.2,221.9 79.3,221.0 C80.4,220.1 81.9,219.6 83.2,219.7 C84.5,219.8 85.7,220.8 87.0,221.7 C88.3,222.6 89.6,223.5 90.9,224.9 C92.2,226.3 93.4,228.3 94.7,230.0 C96.0,231.7 97.3,233.7 98.6,235.2 C99.9,236.7 101.0,237.9 102.5,239.0 C104.0,240.1 106.1,241.1 107.6,241.6 C109.1,242.1 110.0,241.5 111.5,242.2 C113.0,242.8 114.9,244.3 116.6,245.5 C118.3,246.7 120.1,248.0 121.8,249.3 C123.5,250.6 125.5,252.2 126.9,253.2 C128.3,254.2 128.7,255.3 130.0,255.1 C131.3,254.9 133.0,254.0 135.0,252.2 C137.0,250.3 139.5,246.6 141.8,244.0 C144.1,241.4 146.2,238.2 148.6,236.6 C151.0,235.0 154.8,234.8 156.0,234.5"/>
<path d="M85.7,215.0 C86.1,215.8 87.1,217.8 88.0,219.5 C88.9,221.2 89.8,223.5 90.9,225.5 C92.0,227.5 93.4,229.7 94.7,231.5 C96.0,233.3 97.3,235.1 98.6,236.6 C99.9,238.1 101.0,239.3 102.5,240.4 C104.0,241.5 106.1,242.5 107.6,243.0 C109.1,243.5 110.0,243.0 111.5,243.6 C113.0,244.2 114.9,245.6 116.6,246.8 C118.3,248.0 120.1,249.3 121.8,250.6 C123.5,251.9 125.5,253.5 126.9,254.5 C128.3,255.5 128.7,256.5 130.0,256.4 C131.3,256.2 133.0,255.4 135.0,253.6 C137.0,251.8 139.5,248.1 141.8,245.5 C144.1,242.9 146.2,239.6 148.6,238.0 C151.0,236.4 154.8,236.3 156.0,236.0"/>
<path d="M31.0,236.5 C32.1,237.0 35.7,238.4 37.7,239.7 C39.7,241.0 41.0,242.9 42.9,244.2 C44.8,245.5 47.4,247.1 49.3,247.5 C51.2,247.9 52.8,247.8 54.5,246.8 C56.2,245.8 57.9,243.7 59.6,241.7 C61.3,239.7 63.2,236.4 64.7,234.6 C66.2,232.8 67.3,231.8 68.6,230.7 C69.9,229.6 70.8,228.5 72.5,228.2 C74.2,227.9 76.8,228.6 78.9,228.8 C81.0,229.0 83.4,229.5 85.3,229.4 C87.2,229.3 89.0,229.3 90.5,228.2 C92.0,227.1 93.3,225.2 94.4,223.0 C95.5,220.8 96.5,216.3 96.9,215.0"/>
<path d="M37.7,241.0 C38.6,241.8 41.0,244.3 42.9,245.6 C44.8,246.9 47.4,248.6 49.3,249.0 C51.2,249.4 52.8,249.3 54.5,248.3 C56.2,247.3 57.9,245.2 59.6,243.2 C61.3,241.1 63.2,237.9 64.7,236.0 C66.2,234.1 67.9,232.7 68.6,232.0"/>
<path d="M124.1,215.0 C124.6,216.0 125.9,218.4 127.0,221.0 C128.1,223.6 129.1,226.8 130.9,230.4 C132.7,234.0 135.9,240.2 137.7,242.7 C139.5,245.2 140.2,245.6 141.8,245.4 C143.4,245.2 144.8,242.7 147.2,241.3 C149.6,239.9 154.5,237.9 156.0,237.2"/>
<path d="M137.7,215.0 C138.8,217.1 142.5,224.4 144.5,227.7 C146.5,230.9 148.0,233.6 149.9,234.5 C151.8,235.4 155.0,233.4 156.0,233.2"/>
<path d="M31.0,329.7 C32.4,330.1 36.7,330.1 39.2,331.8 C41.7,333.6 44.0,337.4 46.1,340.2 C48.2,343.0 49.7,346.4 51.7,348.6 C53.7,350.8 55.9,353.1 58.0,353.5 C60.1,353.9 62.1,352.4 64.3,350.7 C66.5,348.9 68.9,346.1 71.2,343.0 C73.5,339.9 76.1,334.5 78.2,331.8 C80.3,329.1 81.7,327.2 83.8,327.0 C85.9,326.8 88.4,328.7 90.8,330.4 C93.2,332.1 96.0,335.2 98.4,337.4 C100.8,339.6 103.5,341.8 105.3,343.7 C107.1,345.6 108.1,347.6 109.5,348.6 C110.9,349.7 112.1,348.9 113.7,350.0 C115.3,351.1 117.4,353.4 119.3,354.9 C121.2,356.4 123.1,358.9 124.9,359.0 C126.8,359.1 128.3,358.0 130.4,355.6 C132.5,353.2 135.1,347.9 137.4,344.4 C139.7,340.9 142.1,337.1 144.4,334.6 C146.7,332.2 149.5,330.6 151.4,329.7 C153.3,328.8 155.2,329.1 156.0,329.0"/>
<path d="M48.9,345.8 C49.6,346.8 51.5,349.9 53.0,351.5 C54.5,353.1 56.5,355.1 58.0,355.5 C59.5,355.9 60.5,355.1 62.0,354.0 C63.5,352.9 64.8,351.4 67.0,348.6 C69.2,345.8 72.2,339.9 75.0,337.0 C77.8,334.1 81.2,331.6 83.8,331.1 C86.4,330.6 88.4,332.5 90.8,334.0 C93.2,335.5 95.8,338.0 98.4,340.2 C101.1,342.4 104.9,345.7 106.7,347.2 C108.5,348.7 109.0,348.9 109.5,349.3"/>
<path d="M29.4,374.3 C30.6,372.8 34.3,367.5 36.4,365.3 C38.5,363.1 40.1,362.1 42.0,361.0 C43.9,359.9 45.8,359.2 47.5,359.0 C49.2,358.8 50.6,359.4 52.0,360.0 C53.4,360.6 54.6,361.3 55.9,362.5 C57.2,363.7 58.6,365.0 60.0,367.0 C61.4,369.0 63.6,373.1 64.3,374.3"/>
<path d="M30.4,374.3 C31.5,372.9 35.1,368.2 37.0,366.2 C38.9,364.1 40.2,363.0 42.0,362.0 C43.8,361.0 45.8,360.4 47.5,360.2 C49.2,360.0 50.6,360.4 52.0,361.0 C53.4,361.6 54.6,362.3 55.9,363.5 C57.2,364.7 58.7,366.2 60.0,368.0 C61.3,369.8 62.9,373.2 63.5,374.3"/>
<path d="M104.0,374.3 C104.5,372.6 105.7,366.4 106.7,363.9 C107.7,361.4 108.6,360.0 110.2,359.5 C111.8,359.0 114.5,359.9 116.5,361.1 C118.5,362.3 120.3,364.5 122.1,366.7 C123.8,368.9 126.2,373.0 127.0,374.3"/>
<path d="M105.0,374.3 C105.4,372.7 106.6,366.8 107.5,364.5 C108.4,362.2 110.0,361.2 110.5,360.5"/>
<path d="M130.4,374.3 C131.3,372.9 133.9,367.9 136.0,366.0 C138.1,364.1 140.9,362.9 143.0,362.8 C145.1,362.7 146.6,363.4 148.6,365.3 C150.6,367.2 153.8,372.8 154.9,374.3"/>
</g>
<g clip-path="url(#cdC)" fill="none" stroke="#e34a7a" stroke-width="1.1" stroke-linejoin="round">
<path d="M156.0,274.3 L161.1,274.3 L163.1,268.6 L166.1,267.6 L180.3,267.0 L182.3,265.6 L202.5,263.6 L224.8,261.0 L262.5,259.8 L255.0,258.6 L167.1,257.6 L166.1,256.5 L168.2,254.9 L178.3,253.5 L194.4,252.5 L214.7,251.7 L238.9,250.8 L258.1,250.0 L247.0,248.8 L243.0,247.4 L241.0,246.4 L234.9,246.0 L228.8,245.4 L226.8,244.0 L234.9,243.4 L228.8,242.4 L218.7,242.0 L206.6,241.3 L198.5,239.9 L194.4,238.3 L190.4,236.7 L200.5,236.3 L184.3,234.7 L207.6,234.3 L189.4,233.3 L186.4,230.2 L204.6,229.2 L219.7,228.8 L197.5,227.2 L193.4,225.2 L196.5,223.8 L190.4,222.5 L186.4,219.1 L180.3,216.1 L179.0,214.0"/>
<path d="M156.0,326.8 L159.1,328.8 L174.2,329.4 L172.2,332.1 L176.2,333.5 L184.3,339.5 L192.4,346.6 L198.5,350.3 L212.6,353.1 L198.5,354.3 L223.8,355.9 L175.2,358.8 L184.3,359.8 L188.4,361.8 L212.6,362.8 L190.4,364.8 L185.3,368.9 L187.4,374.5"/>
</g>
<line x1="31.0" y1="366.6" x2="33.2" y2="366.6" stroke="#505858" stroke-width="0.9"/>
<line x1="153.8" y1="366.6" x2="156.0" y2="366.6" stroke="#505858" stroke-width="0.9"/>
<line x1="31.0" y1="358.2" x2="33.2" y2="358.2" stroke="#505858" stroke-width="0.9"/>
<line x1="153.8" y1="358.2" x2="156.0" y2="358.2" stroke="#505858" stroke-width="0.9"/>
<line x1="31.0" y1="349.9" x2="33.2" y2="349.9" stroke="#505858" stroke-width="0.9"/>
<line x1="153.8" y1="349.9" x2="156.0" y2="349.9" stroke="#505858" stroke-width="0.9"/>
<line x1="31.0" y1="341.5" x2="35.2" y2="341.5" stroke="#505858" stroke-width="0.9"/>
<line x1="151.8" y1="341.5" x2="156.0" y2="341.5" stroke="#505858" stroke-width="0.9"/>
<line x1="31.0" y1="333.1" x2="33.2" y2="333.1" stroke="#505858" stroke-width="0.9"/>
<line x1="153.8" y1="333.1" x2="156.0" y2="333.1" stroke="#505858" stroke-width="0.9"/>
<line x1="31.0" y1="324.8" x2="33.2" y2="324.8" stroke="#505858" stroke-width="0.9"/>
<line x1="153.8" y1="324.8" x2="156.0" y2="324.8" stroke="#505858" stroke-width="0.9"/>
<line x1="31.0" y1="316.4" x2="33.2" y2="316.4" stroke="#505858" stroke-width="0.9"/>
<line x1="153.8" y1="316.4" x2="156.0" y2="316.4" stroke="#505858" stroke-width="0.9"/>
<line x1="31.0" y1="308.0" x2="35.2" y2="308.0" stroke="#505858" stroke-width="0.9"/>
<line x1="151.8" y1="308.0" x2="156.0" y2="308.0" stroke="#505858" stroke-width="0.9"/>
<line x1="31.0" y1="299.6" x2="33.2" y2="299.6" stroke="#505858" stroke-width="0.9"/>
<line x1="153.8" y1="299.6" x2="156.0" y2="299.6" stroke="#505858" stroke-width="0.9"/>
<line x1="31.0" y1="291.2" x2="33.2" y2="291.2" stroke="#505858" stroke-width="0.9"/>
<line x1="153.8" y1="291.2" x2="156.0" y2="291.2" stroke="#505858" stroke-width="0.9"/>
<line x1="31.0" y1="282.9" x2="33.2" y2="282.9" stroke="#505858" stroke-width="0.9"/>
<line x1="153.8" y1="282.9" x2="156.0" y2="282.9" stroke="#505858" stroke-width="0.9"/>
<line x1="31.0" y1="274.5" x2="35.2" y2="274.5" stroke="#505858" stroke-width="0.9"/>
<line x1="151.8" y1="274.5" x2="156.0" y2="274.5" stroke="#505858" stroke-width="0.9"/>
<line x1="31.0" y1="266.1" x2="33.2" y2="266.1" stroke="#505858" stroke-width="0.9"/>
<line x1="153.8" y1="266.1" x2="156.0" y2="266.1" stroke="#505858" stroke-width="0.9"/>
<line x1="31.0" y1="257.8" x2="33.2" y2="257.8" stroke="#505858" stroke-width="0.9"/>
<line x1="153.8" y1="257.8" x2="156.0" y2="257.8" stroke="#505858" stroke-width="0.9"/>
<line x1="31.0" y1="249.4" x2="33.2" y2="249.4" stroke="#505858" stroke-width="0.9"/>
<line x1="153.8" y1="249.4" x2="156.0" y2="249.4" stroke="#505858" stroke-width="0.9"/>
<line x1="31.0" y1="241.0" x2="35.2" y2="241.0" stroke="#505858" stroke-width="0.9"/>
<line x1="151.8" y1="241.0" x2="156.0" y2="241.0" stroke="#505858" stroke-width="0.9"/>
<line x1="31.0" y1="232.6" x2="33.2" y2="232.6" stroke="#505858" stroke-width="0.9"/>
<line x1="153.8" y1="232.6" x2="156.0" y2="232.6" stroke="#505858" stroke-width="0.9"/>
<line x1="31.0" y1="224.2" x2="33.2" y2="224.2" stroke="#505858" stroke-width="0.9"/>
<line x1="153.8" y1="224.2" x2="156.0" y2="224.2" stroke="#505858" stroke-width="0.9"/>
<line x1="31.0" y1="215.9" x2="33.2" y2="215.9" stroke="#505858" stroke-width="0.9"/>
<line x1="153.8" y1="215.9" x2="156.0" y2="215.9" stroke="#505858" stroke-width="0.9"/>
<line x1="191.5" y1="215.5" x2="191.5" y2="218.5" stroke="#505858" stroke-width="0.9"/>
<line x1="191.5" y1="374.3" x2="191.5" y2="371.3" stroke="#505858" stroke-width="0.9"/>
<line x1="227.0" y1="215.5" x2="227.0" y2="218.5" stroke="#505858" stroke-width="0.9"/>
<line x1="227.0" y1="374.3" x2="227.0" y2="371.3" stroke="#505858" stroke-width="0.9"/>
<line x1="31.0" y1="215.5" x2="262.7" y2="215.5" stroke="#7b8585" stroke-width="1.4"/>
<line x1="262.2" y1="215.5" x2="262.2" y2="374.3" stroke="#9aa4a4" stroke-width="1.1"/>
<line x1="30.1" y1="374.3" x2="262.7" y2="374.3" stroke="#7b8585" stroke-width="1.9"/>
<line x1="31.0" y1="214.8" x2="31.0" y2="375.2" stroke="#7b8585" stroke-width="1.9"/>
<line x1="156.0" y1="214.8" x2="156.0" y2="375.2" stroke="#57605f" stroke-width="2.00"/>
<line x1="48.3" y1="342.3" x2="48.3" y2="266.1" stroke="#14a014" stroke-width="2.1"/>
<path d="M48.3,263.1 L45.3,267.3 L51.3,267.3 Z" fill="#14a014"/>
<line x1="66.8" y1="347.9" x2="66.8" y2="261.4" stroke="#14a014" stroke-width="2.1"/>
<path d="M66.8,258.4 L63.8,262.6 L69.8,262.6 Z" fill="#14a014"/>
<text x="45.4" y="349.6" font-size="7.4" fill="#555" stroke="#555" stroke-width="0.15" text-anchor="middle" font-family="'Liberation Sans', Arial, Helvetica, sans-serif">A</text>
<text x="69.8" y="356.6" font-size="7.4" fill="#555" stroke="#555" stroke-width="0.15" text-anchor="middle" font-family="'Liberation Sans', Arial, Helvetica, sans-serif">B</text>
<rect x="34.5" y="218.6" width="34.1" height="15.9" fill="#fff" stroke="#3a3e3e" stroke-width="1.4"/>
<text x="51.8" y="229.7" font-size="9.3" fill="#111" stroke="#111" stroke-width="0.42" text-anchor="middle" font-family="'Liberation Sans', Arial, Helvetica, sans-serif">T<tspan font-size="7" dx="0.2" dy="-0.6">-</tspan><tspan dx="0.2" dy="0.6">MoS</tspan><tspan font-size="6.4" dy="2">2</tspan></text>
<text x="27.4" y="245.5" font-size="10" fill="#111" stroke="#111" stroke-width="0.4" text-anchor="end" font-family="'Liberation Sans', Arial, Helvetica, sans-serif">2</text>
<text x="27.4" y="279.0" font-size="10" fill="#111" stroke="#111" stroke-width="0.4" text-anchor="end" font-family="'Liberation Sans', Arial, Helvetica, sans-serif">1</text>
<text x="27.4" y="312.5" font-size="10" fill="#111" stroke="#111" stroke-width="0.4" text-anchor="end" font-family="'Liberation Sans', Arial, Helvetica, sans-serif">0</text>
<text x="27.4" y="346.0" font-size="10" fill="#111" stroke="#111" stroke-width="0.4" text-anchor="end" font-family="'Liberation Sans', Arial, Helvetica, sans-serif">-1</text>
<text x="27.4" y="379.5" font-size="10" fill="#111" stroke="#111" stroke-width="0.4" text-anchor="end" font-family="'Liberation Sans', Arial, Helvetica, sans-serif">-2</text>
<text x="31.4" y="384.6" font-size="9.9" fill="#111" stroke="#111" stroke-width="0.55" text-anchor="middle" font-family="'Liberation Sans', Arial, Helvetica, sans-serif">Γ</text>
<text x="57.4" y="384.6" font-size="9.9" fill="#111" stroke="#111" stroke-width="0.55" text-anchor="middle" font-family="'Liberation Sans', Arial, Helvetica, sans-serif">Λ</text>
<text x="83.7" y="384.6" font-size="9.9" fill="#111" stroke="#111" stroke-width="0.55" text-anchor="middle" font-family="'Liberation Sans', Arial, Helvetica, sans-serif">K</text>
<text x="110.6" y="384.6" font-size="9.9" fill="#111" stroke="#111" stroke-width="0.55" text-anchor="middle" font-family="'Liberation Sans', Arial, Helvetica, sans-serif">M</text>
<text x="156.4" y="384.6" font-size="9.9" fill="#111" stroke="#111" stroke-width="0.55" text-anchor="middle" font-family="'Liberation Sans', Arial, Helvetica, sans-serif">Γ</text>
<text x="191.5" y="385.1" font-size="8.6" fill="#111" stroke="#111" stroke-width="0.35" text-anchor="middle" font-family="'Liberation Sans', Arial, Helvetica, sans-serif">2.5</text>
<text x="227.0" y="385.1" font-size="8.6" fill="#111" stroke="#111" stroke-width="0.35" text-anchor="middle" font-family="'Liberation Sans', Arial, Helvetica, sans-serif">5</text>
<text x="209.6" y="401.3" font-size="11.4" fill="#111" stroke="#111" stroke-width="0.35" text-anchor="middle" font-family="'Liberation Sans', Arial, Helvetica, sans-serif">DOS (eV<tspan font-size="7" dy="-4.5">-</tspan><tspan font-size="7.6">1</tspan><tspan dy="4.5">cell</tspan><tspan font-size="7" dy="-4.5">-</tspan><tspan font-size="7.6">1</tspan><tspan dy="4.5">)</tspan></text>
<text transform="translate(10.7,292.7) rotate(-90)" font-size="13" fill="#111" stroke="#111" stroke-width="0.5" text-anchor="middle" font-family="'Liberation Sans', Arial, Helvetica, sans-serif">Energy (eV)</text>
<clipPath id="cbD"><rect x="310.8" y="214.5" width="126.2" height="159.7"/></clipPath>
<clipPath id="cdD"><rect x="437.0" y="214.5" width="106.0" height="159.7"/></clipPath>
<line x1="336.5" y1="214.5" x2="336.5" y2="374.2" stroke="#cdd3d3" stroke-width="0.9" stroke-dasharray="1.2,1.2"/>
<line x1="363.9" y1="214.5" x2="363.9" y2="374.2" stroke="#cdd3d3" stroke-width="0.9" stroke-dasharray="1.2,1.2"/>
<line x1="390.5" y1="214.5" x2="390.5" y2="374.2" stroke="#cdd3d3" stroke-width="0.9" stroke-dasharray="1.2,1.2"/>
<g clip-path="url(#cbD)" fill="none" stroke="#628ade" stroke-width="0.98" stroke-linecap="round" stroke-linejoin="round">
<path d="M310.8,221.6 C311.8,223.1 314.8,227.1 316.9,230.4 C319.0,233.7 321.6,237.9 323.7,241.3 C325.8,244.7 327.1,248.3 329.2,250.9 C331.2,253.5 333.7,256.3 336.0,257.0 C338.3,257.7 341.0,256.7 342.8,255.0 C344.6,253.3 345.9,249.3 347.0,247.0 C348.1,244.7 348.7,242.4 349.6,241.3 C350.5,240.2 350.9,239.1 352.3,240.7 C353.7,242.3 355.9,247.5 357.8,250.9 C359.7,254.3 361.9,261.1 363.9,261.1 C365.9,261.1 368.0,255.3 370.0,250.9 C372.0,246.5 374.5,237.7 376.0,234.5 C377.5,231.3 377.7,233.5 378.9,231.8 C380.1,230.1 381.2,225.0 383.0,224.3 C384.8,223.6 387.8,226.7 389.8,227.7 C391.8,228.7 392.9,228.8 395.2,230.4 C397.5,232.0 400.9,235.1 403.4,237.2 C405.9,239.2 408.1,241.4 410.2,242.7 C412.2,244.0 413.6,245.2 415.7,245.1 C417.8,245.0 420.4,244.0 422.5,242.0 C424.6,240.0 425.6,236.5 428.0,233.2 C430.4,229.9 435.5,224.1 437.0,222.3"/>
<path d="M310.8,221.6 C312.3,223.8 317.0,230.8 319.6,234.5 C322.2,238.2 323.7,241.9 326.4,244.1 C329.1,246.3 333.3,247.4 336.0,247.5 C338.7,247.6 340.8,246.2 342.8,244.7 C344.8,243.2 346.6,239.4 348.2,238.6 C349.8,237.8 350.7,238.2 352.3,240.0 C353.9,241.8 355.9,246.2 357.8,249.5 C359.7,252.8 362.0,259.4 363.9,259.8 C365.8,260.2 367.2,254.8 369.0,252.0 C370.8,249.2 372.7,245.7 374.8,242.7 C376.9,239.7 379.1,236.1 381.6,233.8 C384.1,231.5 387.1,229.4 389.8,229.1 C392.5,228.8 395.6,230.7 398.0,231.8 C400.4,232.9 403.0,234.9 404.0,235.5"/>
<path d="M398.0,214.5 C398.9,216.0 401.1,220.8 403.4,223.6 C405.7,226.4 408.9,230.4 411.6,231.1 C414.3,231.8 417.1,229.1 419.8,227.7 C422.5,226.3 425.1,223.9 428.0,222.9 C430.9,221.9 435.5,221.8 437.0,221.6"/>
<path d="M415.7,214.5 C416.8,215.8 420.4,221.4 422.5,222.3 C424.6,223.2 426.2,221.3 428.0,220.2 C429.8,219.0 432.5,216.2 433.4,215.4"/>
<path d="M311.4,215.2 C312.5,215.5 316.5,216.2 318.3,216.8 C320.1,217.4 321.4,218.6 322.0,219.0"/>
<path d="M322.0,214.5 C323.0,215.1 326.0,218.2 327.8,218.2 C329.6,218.2 332.1,215.1 333.0,214.5"/>
<path d="M336.0,214.8 C337.0,215.1 340.2,216.5 342.0,216.5 C343.8,216.5 346.1,215.1 346.9,214.8"/>
<path d="M310.8,327.0 C311.9,327.6 315.0,328.7 317.2,330.4 C319.4,332.1 322.0,334.8 324.1,337.4 C326.2,340.0 327.6,343.2 329.7,345.8 C331.8,348.4 334.8,351.5 336.7,352.8 C338.6,354.1 339.0,354.7 340.9,353.5 C342.8,352.3 345.5,349.7 347.8,345.8 C350.1,341.9 352.2,335.1 354.8,330.4 C357.4,325.7 360.6,318.3 363.2,317.6 C365.8,316.9 368.1,323.5 370.2,326.3 C372.3,329.1 374.1,331.8 376.0,334.6 C377.9,337.4 380.2,340.7 381.9,343.0 C383.6,345.3 384.7,346.1 386.1,348.6 C387.5,351.2 388.7,356.1 390.3,358.3 C391.9,360.5 393.6,360.2 395.9,361.8 C398.2,363.4 401.8,368.0 404.3,368.1 C406.9,368.2 409.1,365.8 411.2,362.5 C413.3,359.2 414.7,353.0 416.8,348.6 C418.9,344.2 421.7,339.1 423.8,336.0 C425.9,332.9 427.2,331.1 429.4,329.7 C431.6,328.3 435.7,327.8 437.0,327.4"/>
<path d="M324.1,337.4 C325.0,339.3 327.8,345.1 329.7,348.6 C331.6,352.1 333.6,355.9 335.3,358.3 C337.1,360.7 338.1,363.2 340.2,363.2 C342.3,363.2 345.1,361.2 347.8,358.3 C350.5,355.4 353.6,349.8 356.2,345.8 C358.8,341.8 360.9,335.3 363.2,334.4 C365.5,333.5 368.1,338.1 370.2,340.2 C372.3,342.3 374.1,344.9 376.0,347.2 C377.9,349.5 379.9,351.8 381.9,354.2 C383.9,356.6 386.8,361.1 388.2,361.8 C389.6,362.5 389.9,358.9 390.3,358.3"/>
<path d="M321.3,374.5 C322.2,374.0 324.8,371.6 326.9,371.6 C329.0,371.6 332.7,374.0 333.9,374.5"/>
</g>
<g clip-path="url(#cdD)" fill="none" stroke="#e34a7a" stroke-width="1.1" stroke-linejoin="round">
<path d="M437.0,261.6 L440.1,258.1 L451.2,256.9 L454.2,252.5 L460.3,247.4 L484.6,246.0 L494.7,244.8 L517.9,244.4 L488.6,242.4 L484.6,240.3 L486.6,239.3 L494.7,238.3 L518.9,237.9 L484.6,236.3 L472.4,231.8 L471.4,231.0 L533.1,231.2 L510.8,229.2 L486.6,226.6 L476.5,224.6 L486.6,223.8 L493.7,223.3 L484.6,221.7 L482.5,220.1 L487.6,219.7 L528.0,219.1 L492.6,217.7 L510.8,215.7 L500.0,214.0"/>
<path d="M437.0,317.3 L438.4,319.3 L439.1,326.8 L452.2,327.2 L449.8,330.4 L450.6,334.1 L454.2,338.5 L462.3,346.6 L470.4,351.7 L483.5,353.7 L470.4,354.7 L468.0,359.8 L474.4,361.8 L490.2,362.8 L462.3,365.2 L452.2,367.2 L450.2,368.9 L438.0,370.5 L450.2,371.5 L450.2,373.0 L460.0,374.5"/>
</g>
<line x1="310.8" y1="365.8" x2="313.0" y2="365.8" stroke="#505858" stroke-width="0.9"/>
<line x1="434.8" y1="365.8" x2="437.0" y2="365.8" stroke="#505858" stroke-width="0.9"/>
<line x1="310.8" y1="356.3" x2="315.0" y2="356.3" stroke="#505858" stroke-width="0.9"/>
<line x1="432.8" y1="356.3" x2="437.0" y2="356.3" stroke="#505858" stroke-width="0.9"/>
<line x1="310.8" y1="346.8" x2="313.0" y2="346.8" stroke="#505858" stroke-width="0.9"/>
<line x1="434.8" y1="346.8" x2="437.0" y2="346.8" stroke="#505858" stroke-width="0.9"/>
<line x1="310.8" y1="337.3" x2="313.0" y2="337.3" stroke="#505858" stroke-width="0.9"/>
<line x1="434.8" y1="337.3" x2="437.0" y2="337.3" stroke="#505858" stroke-width="0.9"/>
<line x1="310.8" y1="327.8" x2="313.0" y2="327.8" stroke="#505858" stroke-width="0.9"/>
<line x1="434.8" y1="327.8" x2="437.0" y2="327.8" stroke="#505858" stroke-width="0.9"/>
<line x1="310.8" y1="318.3" x2="315.0" y2="318.3" stroke="#505858" stroke-width="0.9"/>
<line x1="432.8" y1="318.3" x2="437.0" y2="318.3" stroke="#505858" stroke-width="0.9"/>
<line x1="310.8" y1="308.8" x2="313.0" y2="308.8" stroke="#505858" stroke-width="0.9"/>
<line x1="434.8" y1="308.8" x2="437.0" y2="308.8" stroke="#505858" stroke-width="0.9"/>
<line x1="310.8" y1="299.3" x2="313.0" y2="299.3" stroke="#505858" stroke-width="0.9"/>
<line x1="434.8" y1="299.3" x2="437.0" y2="299.3" stroke="#505858" stroke-width="0.9"/>
<line x1="310.8" y1="289.8" x2="313.0" y2="289.8" stroke="#505858" stroke-width="0.9"/>
<line x1="434.8" y1="289.8" x2="437.0" y2="289.8" stroke="#505858" stroke-width="0.9"/>
<line x1="310.8" y1="280.3" x2="315.0" y2="280.3" stroke="#505858" stroke-width="0.9"/>
<line x1="432.8" y1="280.3" x2="437.0" y2="280.3" stroke="#505858" stroke-width="0.9"/>
<line x1="310.8" y1="270.8" x2="313.0" y2="270.8" stroke="#505858" stroke-width="0.9"/>
<line x1="434.8" y1="270.8" x2="437.0" y2="270.8" stroke="#505858" stroke-width="0.9"/>
<line x1="310.8" y1="261.3" x2="313.0" y2="261.3" stroke="#505858" stroke-width="0.9"/>
<line x1="434.8" y1="261.3" x2="437.0" y2="261.3" stroke="#505858" stroke-width="0.9"/>
<line x1="310.8" y1="251.8" x2="313.0" y2="251.8" stroke="#505858" stroke-width="0.9"/>
<line x1="434.8" y1="251.8" x2="437.0" y2="251.8" stroke="#505858" stroke-width="0.9"/>
<line x1="310.8" y1="242.3" x2="315.0" y2="242.3" stroke="#505858" stroke-width="0.9"/>
<line x1="432.8" y1="242.3" x2="437.0" y2="242.3" stroke="#505858" stroke-width="0.9"/>
<line x1="310.8" y1="232.8" x2="313.0" y2="232.8" stroke="#505858" stroke-width="0.9"/>
<line x1="434.8" y1="232.8" x2="437.0" y2="232.8" stroke="#505858" stroke-width="0.9"/>
<line x1="310.8" y1="223.3" x2="313.0" y2="223.3" stroke="#505858" stroke-width="0.9"/>
<line x1="434.8" y1="223.3" x2="437.0" y2="223.3" stroke="#505858" stroke-width="0.9"/>
<line x1="473.1" y1="214.5" x2="473.1" y2="217.5" stroke="#505858" stroke-width="0.9"/>
<line x1="473.1" y1="374.2" x2="473.1" y2="371.2" stroke="#505858" stroke-width="0.9"/>
<line x1="509.2" y1="214.5" x2="509.2" y2="217.5" stroke="#505858" stroke-width="0.9"/>
<line x1="509.2" y1="374.2" x2="509.2" y2="371.2" stroke="#505858" stroke-width="0.9"/>
<line x1="310.8" y1="214.5" x2="543.5" y2="214.5" stroke="#7b8585" stroke-width="1.4"/>
<line x1="543.0" y1="214.5" x2="543.0" y2="374.2" stroke="#9aa4a4" stroke-width="1.1"/>
<line x1="309.9" y1="374.2" x2="543.5" y2="374.2" stroke="#7b8585" stroke-width="1.9"/>
<line x1="310.8" y1="213.8" x2="310.8" y2="375.1" stroke="#7b8585" stroke-width="1.9"/>
<line x1="437.0" y1="213.8" x2="437.0" y2="375.1" stroke="#475050" stroke-width="1.35"/>
<line x1="326.2" y1="332.5" x2="326.2" y2="252.5" stroke="#14a014" stroke-width="2.1"/>
<path d="M326.2,249.5 L323.2,253.7 L329.2,253.7 Z" fill="#14a014"/>
<line x1="424.8" y1="327.0" x2="424.8" y2="247.1" stroke="#14a014" stroke-width="2.1"/>
<path d="M424.8,244.1 L421.8,248.3 L427.8,248.3 Z" fill="#14a014"/>
<text x="336.2" y="256.0" font-size="7.4" fill="#555" stroke="#555" stroke-width="0.15" text-anchor="middle" font-family="'Liberation Sans', Arial, Helvetica, sans-serif">D</text>
<text x="417.0" y="242.6" font-size="7.4" fill="#555" stroke="#555" stroke-width="0.15" text-anchor="middle" font-family="'Liberation Sans', Arial, Helvetica, sans-serif">G</text>
<text x="339.8" y="351.8" font-size="7.4" fill="#555" stroke="#555" stroke-width="0.15" text-anchor="middle" font-family="'Liberation Sans', Arial, Helvetica, sans-serif">D</text>
<text x="404.5" y="367.4" font-size="7.4" fill="#555" stroke="#555" stroke-width="0.15" text-anchor="middle" font-family="'Liberation Sans', Arial, Helvetica, sans-serif">E</text>
<rect x="315.5" y="219.6" width="34.8" height="15.6" fill="#fff" stroke="#3a3e3e" stroke-width="1.4"/>
<text x="333.1" y="230.5" font-size="9.3" fill="#111" stroke="#111" stroke-width="0.42" text-anchor="middle" font-family="'Liberation Sans', Arial, Helvetica, sans-serif">T<tspan font-size="7" dx="0.2" dy="-0.6">-</tspan><tspan dx="0.2" dy="0.6">WS</tspan><tspan font-size="6.4" dy="2">2</tspan></text>
<text x="307.2" y="246.8" font-size="10" fill="#111" stroke="#111" stroke-width="0.4" text-anchor="end" font-family="'Liberation Sans', Arial, Helvetica, sans-serif">2</text>
<text x="307.2" y="284.8" font-size="10" fill="#111" stroke="#111" stroke-width="0.4" text-anchor="end" font-family="'Liberation Sans', Arial, Helvetica, sans-serif">1</text>
<text x="307.2" y="322.8" font-size="10" fill="#111" stroke="#111" stroke-width="0.4" text-anchor="end" font-family="'Liberation Sans', Arial, Helvetica, sans-serif">0</text>
<text x="307.2" y="360.8" font-size="10" fill="#111" stroke="#111" stroke-width="0.4" text-anchor="end" font-family="'Liberation Sans', Arial, Helvetica, sans-serif">-1</text>
<text x="311.2" y="384.5" font-size="9.9" fill="#111" stroke="#111" stroke-width="0.55" text-anchor="middle" font-family="'Liberation Sans', Arial, Helvetica, sans-serif">Γ</text>
<text x="336.9" y="384.5" font-size="9.9" fill="#111" stroke="#111" stroke-width="0.55" text-anchor="middle" font-family="'Liberation Sans', Arial, Helvetica, sans-serif">Λ</text>
<text x="364.3" y="384.5" font-size="9.9" fill="#111" stroke="#111" stroke-width="0.55" text-anchor="middle" font-family="'Liberation Sans', Arial, Helvetica, sans-serif">K</text>
<text x="390.9" y="384.5" font-size="9.9" fill="#111" stroke="#111" stroke-width="0.55" text-anchor="middle" font-family="'Liberation Sans', Arial, Helvetica, sans-serif">M</text>
<text x="437.4" y="384.5" font-size="9.9" fill="#111" stroke="#111" stroke-width="0.55" text-anchor="middle" font-family="'Liberation Sans', Arial, Helvetica, sans-serif">Γ</text>
<text x="473.1" y="385.0" font-size="8.6" fill="#111" stroke="#111" stroke-width="0.35" text-anchor="middle" font-family="'Liberation Sans', Arial, Helvetica, sans-serif">2.5</text>
<text x="509.2" y="385.0" font-size="8.6" fill="#111" stroke="#111" stroke-width="0.35" text-anchor="middle" font-family="'Liberation Sans', Arial, Helvetica, sans-serif">5</text>
<text x="490.5" y="401.2" font-size="11.4" fill="#111" stroke="#111" stroke-width="0.35" text-anchor="middle" font-family="'Liberation Sans', Arial, Helvetica, sans-serif">DOS (eV<tspan font-size="7" dy="-4.5">-</tspan><tspan font-size="7.6">1</tspan><tspan dy="4.5">cell</tspan><tspan font-size="7" dy="-4.5">-</tspan><tspan font-size="7.6">1</tspan><tspan dy="4.5">)</tspan></text>
<text transform="translate(292.5,294.4) rotate(-90)" font-size="13" fill="#111" stroke="#111" stroke-width="0.5" text-anchor="middle" font-family="'Liberation Sans', Arial, Helvetica, sans-serif">Energy (eV)</text>
<clipPath id="cbE"><rect x="31.0" y="426.5" width="125.0" height="158.8"/></clipPath>
<clipPath id="cdE"><rect x="156.0" y="426.5" width="106.2" height="158.8"/></clipPath>
<line x1="57.0" y1="426.5" x2="57.0" y2="585.3" stroke="#cdd3d3" stroke-width="0.9" stroke-dasharray="1.2,1.2"/>
<line x1="83.3" y1="426.5" x2="83.3" y2="585.3" stroke="#cdd3d3" stroke-width="0.9" stroke-dasharray="1.2,1.2"/>
<line x1="110.2" y1="426.5" x2="110.2" y2="585.3" stroke="#cdd3d3" stroke-width="0.9" stroke-dasharray="1.2,1.2"/>
<g clip-path="url(#cbE)" fill="none" stroke="#628ade" stroke-width="0.98" stroke-linecap="round" stroke-linejoin="round">
<path d="M31.0,455.8 C32.1,457.0 35.3,459.7 37.5,462.9 C39.7,466.1 42.0,471.6 44.3,475.1 C46.6,478.6 49.2,483.1 51.2,484.0 C53.2,484.9 54.8,482.0 56.6,480.6 C58.4,479.2 60.0,477.2 62.1,475.8 C64.2,474.4 66.6,472.6 68.9,472.4 C71.2,472.2 73.3,473.2 75.7,474.5 C78.1,475.8 80.9,479.2 83.2,480.3 C85.5,481.4 87.3,481.9 89.3,481.3 C91.3,480.7 93.5,478.7 95.4,476.5 C97.3,474.3 98.9,470.9 100.9,468.3 C103.0,465.7 105.0,462.1 107.7,460.8 C110.4,459.6 114.2,460.5 117.2,460.8 C120.2,461.1 122.4,462.1 125.4,462.6 C128.4,463.1 132.3,463.8 135.0,463.6 C137.7,463.4 139.3,462.5 141.8,461.5 C144.3,460.5 147.5,458.4 149.9,457.4 C152.3,456.4 155.0,455.7 156.0,455.4"/>
<path d="M31.0,455.4 C32.8,456.1 38.7,457.4 41.6,459.5 C44.5,461.6 45.9,465.0 48.4,468.3 C50.9,471.6 54.3,476.7 56.6,479.2 C58.9,481.7 60.0,482.4 62.1,483.3 C64.2,484.2 66.6,484.8 68.9,484.9 C71.2,485.0 73.3,484.8 75.7,484.0 C78.1,483.2 80.8,481.7 83.2,480.3 C85.6,478.9 87.7,477.1 90.0,475.8 C92.3,474.5 94.5,473.4 96.8,472.4 C99.1,471.4 101.3,470.4 103.6,470.0 C105.9,469.6 108.1,469.1 110.4,469.7 C112.7,470.3 114.9,471.8 117.2,473.8 C119.5,475.9 122.0,479.5 124.1,482.0 C126.1,484.5 127.8,487.3 129.5,488.8 C131.2,490.3 132.5,491.7 134.3,490.8 C136.1,489.9 138.2,487.1 140.4,483.3 C142.6,479.6 144.9,472.6 147.2,468.3 C149.5,464.0 152.5,459.5 154.0,457.4 C155.5,455.2 155.7,455.7 156.0,455.4"/>
<path d="M31.0,522.9 C31.9,523.0 34.4,523.0 36.4,523.2 C38.4,523.4 40.8,524.8 43.3,524.3 C45.8,523.8 49.4,520.5 51.7,520.1 C54.0,519.8 55.2,520.9 57.3,522.2 C59.4,523.5 61.8,525.1 64.3,527.8 C66.8,530.5 69.6,534.8 72.6,538.3 C75.6,541.8 79.6,547.2 82.4,548.7 C85.2,550.2 87.0,547.4 89.4,547.3 C91.8,547.2 94.6,547.4 97.0,548.0 C99.4,548.6 101.9,550.1 104.0,550.8 C106.1,551.4 107.7,552.4 109.5,551.9 C111.3,551.4 113.0,550.3 115.1,548.0 C117.2,545.7 119.8,541.5 122.1,538.3 C124.4,535.0 126.8,531.1 129.1,528.5 C131.4,525.9 133.7,523.3 136.0,522.6 C138.3,521.9 140.9,524.1 143.0,524.3 C145.1,524.5 146.4,523.8 148.6,523.6 C150.8,523.4 154.8,523.0 156.0,522.9"/>
<path d="M31.0,525.4 C32.8,525.6 38.7,525.2 41.9,526.4 C45.1,527.6 47.7,529.8 50.3,532.7 C52.9,535.6 55.2,540.5 57.3,543.8 C59.4,547.0 60.8,549.8 62.9,552.2 C65.0,554.7 67.5,557.8 69.8,558.5 C72.1,559.2 74.5,557.9 76.8,556.4 C79.1,554.9 81.5,550.8 83.8,549.4 C86.1,548.0 88.6,547.8 90.8,548.0 C93.0,548.2 94.8,549.2 97.0,550.8 C99.2,552.4 101.9,555.3 104.0,557.8 C106.1,560.2 107.7,563.6 109.5,565.5 C111.3,567.4 113.5,568.2 115.1,569.0 C116.7,569.8 117.7,571.7 119.3,570.3 C120.9,568.9 122.8,565.2 124.9,560.6 C127.0,556.0 129.5,547.3 131.8,542.4 C134.1,537.5 136.7,533.5 138.8,531.3 C140.9,529.1 142.5,529.1 144.4,529.2 C146.3,529.3 148.1,531.1 150.0,532.0 C151.9,532.9 155.0,534.0 156.0,534.4"/>
<path d="M31.0,534.4 C31.7,534.0 33.2,532.9 35.0,532.0 C36.8,531.1 39.6,528.8 41.9,528.8 C44.2,528.8 46.6,529.7 48.9,532.0 C51.2,534.3 53.6,538.6 55.9,542.4 C58.2,546.2 60.6,551.0 62.9,555.0 C65.2,559.0 67.5,563.4 69.8,566.2 C72.1,569.0 74.5,570.7 76.8,571.7 C79.1,572.7 81.7,572.0 83.8,572.4 C85.9,572.8 87.2,572.5 89.4,573.8 C91.6,575.1 94.8,578.1 97.0,580.1 C99.2,582.1 101.7,584.6 102.6,585.5"/>
<path d="M104.0,585.5 C104.9,583.0 108.1,573.3 109.5,570.3 C110.9,567.3 110.9,569.2 112.3,567.6 C113.7,566.0 115.8,563.9 117.9,560.6 C120.0,557.3 122.6,552.2 124.9,548.0 C127.2,543.8 129.5,539.0 131.8,535.5 C134.1,532.0 136.5,528.7 138.8,527.1 C141.1,525.5 142.9,526.1 145.8,525.7 C148.7,525.4 154.3,525.1 156.0,525.0"/>
<path d="M31.0,543.8 C31.9,544.5 34.1,545.2 36.4,548.0 C38.7,550.8 41.9,556.6 44.7,560.6 C47.5,564.6 50.5,569.2 53.1,571.7 C55.7,574.2 57.8,574.5 60.1,575.9 C62.4,577.3 65.0,578.5 67.1,580.1 C69.2,581.7 71.7,584.8 72.6,585.7"/>
<path d="M109.5,585.7 C110.2,585.2 112.1,585.0 113.7,582.9 C115.3,580.8 117.4,574.9 119.3,573.1 C121.2,571.4 122.8,572.9 124.9,572.4 C127.0,571.9 129.5,572.0 131.8,570.3 C134.1,568.6 136.5,565.0 138.8,562.0 C141.1,559.0 143.7,555.0 145.8,552.2 C147.9,549.4 149.7,546.6 151.4,545.2 C153.1,543.8 155.2,544.0 156.0,543.8"/>
</g>
<g clip-path="url(#cdE)" fill="none" stroke="#e34a7a" stroke-width="1.1" stroke-linejoin="round">
<path d="M156.0,455.5 L159.8,455.8 L165.5,457.0 L168.0,460.0 L191.0,460.5 L196.0,462.0 L211.0,463.3 L238.5,463.3 L203.5,464.5 L191.0,467.0 L193.5,469.3 L226.0,469.5 L229.8,470.8 L261.0,472.0 L211.0,473.8 L189.8,478.8 L198.5,480.5 L226.0,482.5 L253.5,482.0 L211.0,484.0 L179.8,485.0 L172.3,490.0 L157.3,491.3 L156.0,491.3"/>
<path d="M156.0,520.8 L232.9,521.8 L200.0,522.8 L174.2,524.8 L262.0,524.8 L230.0,525.5 L200.5,526.3 L252.0,526.5 L210.0,527.5 L186.4,528.3 L253.0,528.5 L225.0,529.0 L207.6,529.3 L200.5,532.3 L194.4,535.4 L193.4,540.4 L196.5,544.5 L202.5,545.5 L212.6,546.5 L194.4,549.5 L206.6,550.9 L236.9,551.1 L208.6,552.6 L214.7,555.0 L256.1,556.2 L184.3,557.6 L179.3,561.7 L179.3,565.7 L182.3,568.7 L202.5,570.8 L214.7,571.8 L262.0,572.4 L206.6,574.0 L194.4,577.8 L190.4,581.9 L192.4,583.9 L208.6,584.5"/>
</g>
<line x1="31.0" y1="584.9" x2="35.2" y2="584.9" stroke="#505858" stroke-width="0.9"/>
<line x1="151.8" y1="584.9" x2="156.0" y2="584.9" stroke="#505858" stroke-width="0.9"/>
<line x1="31.0" y1="578.3" x2="33.2" y2="578.3" stroke="#505858" stroke-width="0.9"/>
<line x1="153.8" y1="578.3" x2="156.0" y2="578.3" stroke="#505858" stroke-width="0.9"/>
<line x1="31.0" y1="571.7" x2="33.2" y2="571.7" stroke="#505858" stroke-width="0.9"/>
<line x1="153.8" y1="571.7" x2="156.0" y2="571.7" stroke="#505858" stroke-width="0.9"/>
<line x1="31.0" y1="565.1" x2="33.2" y2="565.1" stroke="#505858" stroke-width="0.9"/>
<line x1="153.8" y1="565.1" x2="156.0" y2="565.1" stroke="#505858" stroke-width="0.9"/>
<line x1="31.0" y1="558.5" x2="35.2" y2="558.5" stroke="#505858" stroke-width="0.9"/>
<line x1="151.8" y1="558.5" x2="156.0" y2="558.5" stroke="#505858" stroke-width="0.9"/>
<line x1="31.0" y1="551.9" x2="33.2" y2="551.9" stroke="#505858" stroke-width="0.9"/>
<line x1="153.8" y1="551.9" x2="156.0" y2="551.9" stroke="#505858" stroke-width="0.9"/>
<line x1="31.0" y1="545.3" x2="33.2" y2="545.3" stroke="#505858" stroke-width="0.9"/>
<line x1="153.8" y1="545.3" x2="156.0" y2="545.3" stroke="#505858" stroke-width="0.9"/>
<line x1="31.0" y1="538.7" x2="33.2" y2="538.7" stroke="#505858" stroke-width="0.9"/>
<line x1="153.8" y1="538.7" x2="156.0" y2="538.7" stroke="#505858" stroke-width="0.9"/>
<line x1="31.0" y1="532.1" x2="35.2" y2="532.1" stroke="#505858" stroke-width="0.9"/>
<line x1="151.8" y1="532.1" x2="156.0" y2="532.1" stroke="#505858" stroke-width="0.9"/>
<line x1="31.0" y1="525.6" x2="33.2" y2="525.6" stroke="#505858" stroke-width="0.9"/>
<line x1="153.8" y1="525.6" x2="156.0" y2="525.6" stroke="#505858" stroke-width="0.9"/>
<line x1="31.0" y1="519.0" x2="33.2" y2="519.0" stroke="#505858" stroke-width="0.9"/>
<line x1="153.8" y1="519.0" x2="156.0" y2="519.0" stroke="#505858" stroke-width="0.9"/>
<line x1="31.0" y1="512.4" x2="33.2" y2="512.4" stroke="#505858" stroke-width="0.9"/>
<line x1="153.8" y1="512.4" x2="156.0" y2="512.4" stroke="#505858" stroke-width="0.9"/>
<line x1="31.0" y1="505.8" x2="35.2" y2="505.8" stroke="#505858" stroke-width="0.9"/>
<line x1="151.8" y1="505.8" x2="156.0" y2="505.8" stroke="#505858" stroke-width="0.9"/>
<line x1="31.0" y1="499.2" x2="33.2" y2="499.2" stroke="#505858" stroke-width="0.9"/>
<line x1="153.8" y1="499.2" x2="156.0" y2="499.2" stroke="#505858" stroke-width="0.9"/>
<line x1="31.0" y1="492.6" x2="33.2" y2="492.6" stroke="#505858" stroke-width="0.9"/>
<line x1="153.8" y1="492.6" x2="156.0" y2="492.6" stroke="#505858" stroke-width="0.9"/>
<line x1="31.0" y1="486.0" x2="33.2" y2="486.0" stroke="#505858" stroke-width="0.9"/>
<line x1="153.8" y1="486.0" x2="156.0" y2="486.0" stroke="#505858" stroke-width="0.9"/>
<line x1="31.0" y1="479.4" x2="35.2" y2="479.4" stroke="#505858" stroke-width="0.9"/>
<line x1="151.8" y1="479.4" x2="156.0" y2="479.4" stroke="#505858" stroke-width="0.9"/>
<line x1="31.0" y1="472.9" x2="33.2" y2="472.9" stroke="#505858" stroke-width="0.9"/>
<line x1="153.8" y1="472.9" x2="156.0" y2="472.9" stroke="#505858" stroke-width="0.9"/>
<line x1="31.0" y1="466.3" x2="33.2" y2="466.3" stroke="#505858" stroke-width="0.9"/>
<line x1="153.8" y1="466.3" x2="156.0" y2="466.3" stroke="#505858" stroke-width="0.9"/>
<line x1="31.0" y1="459.7" x2="33.2" y2="459.7" stroke="#505858" stroke-width="0.9"/>
<line x1="153.8" y1="459.7" x2="156.0" y2="459.7" stroke="#505858" stroke-width="0.9"/>
<line x1="31.0" y1="453.1" x2="35.2" y2="453.1" stroke="#505858" stroke-width="0.9"/>
<line x1="151.8" y1="453.1" x2="156.0" y2="453.1" stroke="#505858" stroke-width="0.9"/>
<line x1="31.0" y1="446.5" x2="33.2" y2="446.5" stroke="#505858" stroke-width="0.9"/>
<line x1="153.8" y1="446.5" x2="156.0" y2="446.5" stroke="#505858" stroke-width="0.9"/>
<line x1="31.0" y1="439.9" x2="33.2" y2="439.9" stroke="#505858" stroke-width="0.9"/>
<line x1="153.8" y1="439.9" x2="156.0" y2="439.9" stroke="#505858" stroke-width="0.9"/>
<line x1="31.0" y1="433.3" x2="33.2" y2="433.3" stroke="#505858" stroke-width="0.9"/>
<line x1="153.8" y1="433.3" x2="156.0" y2="433.3" stroke="#505858" stroke-width="0.9"/>
<line x1="31.0" y1="426.8" x2="35.2" y2="426.8" stroke="#505858" stroke-width="0.9"/>
<line x1="151.8" y1="426.8" x2="156.0" y2="426.8" stroke="#505858" stroke-width="0.9"/>
<line x1="191.2" y1="426.5" x2="191.2" y2="429.5" stroke="#505858" stroke-width="0.9"/>
<line x1="191.2" y1="585.3" x2="191.2" y2="582.3" stroke="#505858" stroke-width="0.9"/>
<line x1="226.5" y1="426.5" x2="226.5" y2="429.5" stroke="#505858" stroke-width="0.9"/>
<line x1="226.5" y1="585.3" x2="226.5" y2="582.3" stroke="#505858" stroke-width="0.9"/>
<line x1="31.0" y1="426.5" x2="262.7" y2="426.5" stroke="#7b8585" stroke-width="1.4"/>
<line x1="262.2" y1="426.5" x2="262.2" y2="585.3" stroke="#9aa4a4" stroke-width="1.1"/>
<line x1="30.1" y1="585.3" x2="262.7" y2="585.3" stroke="#7b8585" stroke-width="1.9"/>
<line x1="31.0" y1="425.8" x2="31.0" y2="586.2" stroke="#7b8585" stroke-width="1.9"/>
<line x1="156.0" y1="425.8" x2="156.0" y2="586.2" stroke="#57605f" stroke-width="2.00"/>
<line x1="51.8" y1="520.1" x2="51.8" y2="489.0" stroke="#14a014" stroke-width="2.1"/>
<path d="M51.8,486.0 L48.8,490.2 L54.8,490.2 Z" fill="#14a014"/>
<rect x="34.3" y="432.3" width="34.3" height="15.9" fill="#fff" stroke="#3a3e3e" stroke-width="1.4"/>
<text x="51.6" y="443.4" font-size="9.3" fill="#111" stroke="#111" stroke-width="0.42" text-anchor="middle" font-family="'Liberation Sans', Arial, Helvetica, sans-serif">O<tspan font-size="7" dx="0.2" dy="-0.6">-</tspan><tspan dx="0.2" dy="0.6">PdS</tspan><tspan font-size="6.4" dy="2">2</tspan></text>
<text x="27.4" y="431.2" font-size="10" fill="#111" stroke="#111" stroke-width="0.4" text-anchor="end" font-family="'Liberation Sans', Arial, Helvetica, sans-serif">3</text>
<text x="27.4" y="457.6" font-size="10" fill="#111" stroke="#111" stroke-width="0.4" text-anchor="end" font-family="'Liberation Sans', Arial, Helvetica, sans-serif">2</text>
<text x="27.4" y="483.9" font-size="10" fill="#111" stroke="#111" stroke-width="0.4" text-anchor="end" font-family="'Liberation Sans', Arial, Helvetica, sans-serif">1</text>
<text x="27.4" y="510.3" font-size="10" fill="#111" stroke="#111" stroke-width="0.4" text-anchor="end" font-family="'Liberation Sans', Arial, Helvetica, sans-serif">0</text>
<text x="27.4" y="536.6" font-size="10" fill="#111" stroke="#111" stroke-width="0.4" text-anchor="end" font-family="'Liberation Sans', Arial, Helvetica, sans-serif">-1</text>
<text x="27.4" y="563.0" font-size="10" fill="#111" stroke="#111" stroke-width="0.4" text-anchor="end" font-family="'Liberation Sans', Arial, Helvetica, sans-serif">-2</text>
<text x="27.4" y="589.4" font-size="10" fill="#111" stroke="#111" stroke-width="0.4" text-anchor="end" font-family="'Liberation Sans', Arial, Helvetica, sans-serif">-3</text>
<text x="31.4" y="596.4" font-size="9.9" fill="#111" stroke="#111" stroke-width="0.55" text-anchor="middle" font-family="'Liberation Sans', Arial, Helvetica, sans-serif">Γ</text>
<text x="57.4" y="596.4" font-size="9.9" fill="#111" stroke="#111" stroke-width="0.55" text-anchor="middle" font-family="'Liberation Sans', Arial, Helvetica, sans-serif">Λ</text>
<text x="83.7" y="596.4" font-size="9.9" fill="#111" stroke="#111" stroke-width="0.55" text-anchor="middle" font-family="'Liberation Sans', Arial, Helvetica, sans-serif">K</text>
<text x="110.6" y="596.4" font-size="9.9" fill="#111" stroke="#111" stroke-width="0.55" text-anchor="middle" font-family="'Liberation Sans', Arial, Helvetica, sans-serif">M</text>
<text x="156.4" y="596.4" font-size="9.9" fill="#111" stroke="#111" stroke-width="0.55" text-anchor="middle" font-family="'Liberation Sans', Arial, Helvetica, sans-serif">Γ</text>
<text x="191.2" y="596.9" font-size="8.6" fill="#111" stroke="#111" stroke-width="0.35" text-anchor="middle" font-family="'Liberation Sans', Arial, Helvetica, sans-serif">2.5</text>
<text x="226.5" y="596.9" font-size="8.6" fill="#111" stroke="#111" stroke-width="0.35" text-anchor="middle" font-family="'Liberation Sans', Arial, Helvetica, sans-serif">5</text>
<text x="209.6" y="613.8" font-size="11.4" fill="#111" stroke="#111" stroke-width="0.35" text-anchor="middle" font-family="'Liberation Sans', Arial, Helvetica, sans-serif">DOS (eV<tspan font-size="7" dy="-4.5">-</tspan><tspan font-size="7.6">1</tspan><tspan dy="4.5">cell</tspan><tspan font-size="7" dy="-4.5">-</tspan><tspan font-size="7.6">1</tspan><tspan dy="4.5">)</tspan></text>
<text transform="translate(9.4,505.9) rotate(-90)" font-size="13" fill="#111" stroke="#111" stroke-width="0.5" text-anchor="middle" font-family="'Liberation Sans', Arial, Helvetica, sans-serif">Energy (eV)</text>
<clipPath id="cbF"><rect x="312.3" y="426.5" width="125.2" height="158.8"/></clipPath>
<clipPath id="cdF"><rect x="437.5" y="426.5" width="105.5" height="158.8"/></clipPath>
<line x1="337.8" y1="426.5" x2="337.8" y2="585.3" stroke="#cdd3d3" stroke-width="0.9" stroke-dasharray="1.2,1.2"/>
<line x1="365.0" y1="426.5" x2="365.0" y2="585.3" stroke="#cdd3d3" stroke-width="0.9" stroke-dasharray="1.2,1.2"/>
<line x1="391.5" y1="426.5" x2="391.5" y2="585.3" stroke="#cdd3d3" stroke-width="0.9" stroke-dasharray="1.2,1.2"/>
<g clip-path="url(#cbF)" fill="none" stroke="#628ade" stroke-width="0.98" stroke-linecap="round" stroke-linejoin="round">
<path d="M312.3,448.2 C313.4,449.1 316.7,450.9 318.9,453.3 C321.1,455.8 323.4,459.7 325.7,462.9 C328.0,466.1 330.6,470.1 332.5,472.4 C334.4,474.7 335.5,476.7 337.3,476.5 C339.1,476.3 341.0,472.6 343.4,471.0 C345.8,469.4 349.1,467.2 351.6,467.2 C354.1,467.2 356.2,469.5 358.4,471.0 C360.5,472.5 362.4,476.0 364.5,476.2 C366.6,476.4 368.6,473.9 370.7,472.4 C372.8,470.9 374.6,468.8 376.8,467.0 C379.0,465.2 381.3,463.4 383.6,461.5 C385.9,459.6 388.1,456.2 390.4,455.4 C392.7,454.6 394.5,455.9 397.2,456.7 C399.9,457.5 403.8,459.3 406.8,460.1 C409.8,460.9 412.5,461.7 415.0,461.5 C417.5,461.3 419.3,460.3 421.8,458.8 C424.3,457.3 427.4,454.5 430.0,452.7 C432.6,450.9 436.2,448.9 437.5,448.2"/>
<path d="M312.3,454.7 C313.4,455.8 316.7,458.3 318.9,461.5 C321.1,464.7 323.6,470.6 325.7,473.8 C327.8,477.0 329.3,479.7 331.2,480.6 C333.1,481.6 335.3,479.3 337.3,479.5 C339.3,479.7 341.2,481.3 343.4,481.9 C345.5,482.5 347.9,483.2 350.2,483.3 C352.5,483.4 354.6,483.5 357.0,482.6 C359.4,481.7 362.3,478.7 364.5,478.1 C366.7,477.5 368.4,479.1 370.0,479.2 C371.6,479.3 372.3,479.9 374.1,478.5 C375.9,477.1 378.6,473.4 380.9,471.0 C383.2,468.6 385.6,465.4 387.7,464.2 C389.8,463.0 391.1,462.9 393.2,463.6 C395.2,464.3 397.5,465.5 400.0,468.3 C402.5,471.1 405.5,477.4 408.1,480.6 C410.7,483.8 413.3,487.4 415.6,487.4 C417.9,487.4 419.6,484.0 421.8,480.6 C424.0,477.2 426.6,470.9 428.6,467.0 C430.6,463.1 432.5,459.4 434.0,457.4 C435.5,455.4 436.9,455.4 437.5,455.0"/>
<path d="M312.3,536.2 C313.0,535.8 314.3,534.5 316.4,533.8 C318.5,533.1 322.1,532.3 324.7,532.0 C327.2,531.7 329.0,532.1 331.7,532.0 C334.4,531.9 338.2,531.1 340.8,531.6 C343.4,532.1 344.7,532.9 347.1,534.8 C349.5,536.7 352.6,540.5 355.4,543.1 C358.2,545.7 361.5,549.1 363.8,550.1 C366.1,551.1 367.7,549.5 369.4,549.4 C371.1,549.3 372.2,548.2 374.2,549.4 C376.2,550.6 379.1,553.9 381.2,556.4 C383.3,558.9 385.1,562.3 386.7,564.1 C388.3,565.9 389.3,567.9 390.9,567.3 C392.5,566.7 394.4,563.8 396.5,560.6 C398.6,557.4 401.2,551.7 403.5,548.0 C405.8,544.3 408.1,540.7 410.4,538.3 C412.7,535.9 415.1,534.4 417.4,533.4 C419.7,532.4 422.3,531.9 424.4,532.0 C426.5,532.1 427.8,533.4 430.0,534.1 C432.2,534.8 436.2,535.9 437.5,536.2"/>
<path d="M312.3,541.7 C313.4,541.5 316.4,541.2 319.2,540.4 C322.0,539.6 326.6,537.0 328.9,536.9 C331.2,536.8 331.5,537.9 333.1,539.7 C334.7,541.6 336.8,545.0 338.7,548.0 C340.6,551.0 342.4,554.8 344.3,557.8 C346.2,560.8 347.7,565.5 349.8,566.2 C351.9,566.9 354.4,563.9 356.8,562.0 C359.2,560.1 362.2,555.8 364.5,555.0 C366.8,554.2 368.5,555.9 370.8,557.1 C373.1,558.3 375.8,560.2 378.4,562.0 C381.0,563.8 384.4,566.0 386.7,567.6 C389.0,569.2 390.8,570.4 392.3,571.7 C393.8,573.0 394.4,576.1 395.8,575.2 C397.2,574.3 398.7,569.8 400.7,566.2 C402.7,562.6 405.4,557.8 407.7,553.6 C410.0,549.4 412.8,543.8 414.6,541.0 C416.5,538.2 416.9,537.2 418.8,536.9 C420.7,536.6 423.7,538.4 425.8,539.0 C427.9,539.6 429.4,539.9 431.4,540.4 C433.3,540.9 436.5,541.5 437.5,541.7"/>
<path d="M312.3,548.7 C313.0,548.2 314.1,547.0 316.4,545.9 C318.7,544.8 323.3,542.3 326.1,542.4 C328.9,542.5 330.8,544.0 333.1,546.6 C335.4,549.2 337.8,553.8 340.1,557.8 C342.4,561.8 344.6,565.6 347.1,570.3 C349.7,574.9 354.0,583.1 355.4,585.7"/>
<path d="M312.3,552.9 C313.4,554.6 316.9,559.8 319.2,563.4 C321.5,567.0 324.0,570.8 326.1,574.5 C328.2,578.2 330.8,583.8 331.7,585.7"/>
<path d="M392.3,585.7 C393.0,584.4 395.1,579.4 396.5,578.0 C397.9,576.6 399.1,578.6 400.7,577.3 C402.3,576.0 404.2,573.8 406.3,570.3 C408.4,566.8 411.1,560.3 413.2,556.4 C415.3,552.5 417.1,548.9 418.8,546.6 C420.6,544.3 422.1,542.9 423.7,542.7 C425.3,542.5 426.3,544.2 428.6,545.2 C430.9,546.2 436.0,548.1 437.5,548.7"/>
<path d="M417.4,585.7 C418.3,584.1 421.1,579.4 423.0,575.9 C424.9,572.4 427.0,567.8 428.6,564.8 C430.2,561.8 431.3,559.8 432.8,557.8 C434.3,555.8 436.7,553.7 437.5,552.9"/>
<path d="M384.0,585.7 C384.7,585.5 386.8,584.6 388.0,584.6 C389.2,584.6 390.5,585.4 391.0,585.5"/>
</g>
<g clip-path="url(#cdF)" fill="none" stroke="#e34a7a" stroke-width="1.1" stroke-linejoin="round">
<path d="M437.5,447.9 L440.1,448.3 L443.1,454.4 L461.3,455.0 L464.3,456.8 L474.4,459.0 L484.6,460.4 L497.7,461.4 L483.5,462.4 L498.7,463.5 L500.7,465.5 L510.8,466.5 L529.0,467.3 L494.7,468.5 L478.5,471.5 L466.4,476.2 L470.4,477.6 L496.7,479.0 L539.2,480.6 L494.7,482.1 L461.3,482.7 L456.2,486.7 L437.5,487.3"/>
<path d="M437.5,531.7 L543.0,531.7"/>
<path d="M470.4,534.0 L461.3,536.4 L537.1,536.8 L494.7,538.4 L500.7,539.4 L468.4,541.4 L527.0,542.4 L492.6,543.5 L486.6,545.5 L488.6,548.1 L503.8,548.5 L474.4,549.5 L467.4,551.5 L466.4,555.0 L469.0,557.5 L474.4,560.5 L480.0,562.8 L484.6,564.3 L492.6,565.1 L534.1,566.3 L480.5,567.1 L468.4,568.7 L464.3,571.8 L459.3,574.4 L463.3,575.8 L464.3,577.2 L481.5,577.8 L466.4,578.4 L463.3,580.9 L469.4,583.3 L481.5,583.9"/>
</g>
<line x1="312.3" y1="584.9" x2="316.5" y2="584.9" stroke="#505858" stroke-width="0.9"/>
<line x1="433.3" y1="584.9" x2="437.5" y2="584.9" stroke="#505858" stroke-width="0.9"/>
<line x1="312.3" y1="578.3" x2="314.5" y2="578.3" stroke="#505858" stroke-width="0.9"/>
<line x1="435.3" y1="578.3" x2="437.5" y2="578.3" stroke="#505858" stroke-width="0.9"/>
<line x1="312.3" y1="571.7" x2="314.5" y2="571.7" stroke="#505858" stroke-width="0.9"/>
<line x1="435.3" y1="571.7" x2="437.5" y2="571.7" stroke="#505858" stroke-width="0.9"/>
<line x1="312.3" y1="565.1" x2="314.5" y2="565.1" stroke="#505858" stroke-width="0.9"/>
<line x1="435.3" y1="565.1" x2="437.5" y2="565.1" stroke="#505858" stroke-width="0.9"/>
<line x1="312.3" y1="558.5" x2="316.5" y2="558.5" stroke="#505858" stroke-width="0.9"/>
<line x1="433.3" y1="558.5" x2="437.5" y2="558.5" stroke="#505858" stroke-width="0.9"/>
<line x1="312.3" y1="551.9" x2="314.5" y2="551.9" stroke="#505858" stroke-width="0.9"/>
<line x1="435.3" y1="551.9" x2="437.5" y2="551.9" stroke="#505858" stroke-width="0.9"/>
<line x1="312.3" y1="545.3" x2="314.5" y2="545.3" stroke="#505858" stroke-width="0.9"/>
<line x1="435.3" y1="545.3" x2="437.5" y2="545.3" stroke="#505858" stroke-width="0.9"/>
<line x1="312.3" y1="538.7" x2="314.5" y2="538.7" stroke="#505858" stroke-width="0.9"/>
<line x1="435.3" y1="538.7" x2="437.5" y2="538.7" stroke="#505858" stroke-width="0.9"/>
<line x1="312.3" y1="532.1" x2="316.5" y2="532.1" stroke="#505858" stroke-width="0.9"/>
<line x1="433.3" y1="532.1" x2="437.5" y2="532.1" stroke="#505858" stroke-width="0.9"/>
<line x1="312.3" y1="525.6" x2="314.5" y2="525.6" stroke="#505858" stroke-width="0.9"/>
<line x1="435.3" y1="525.6" x2="437.5" y2="525.6" stroke="#505858" stroke-width="0.9"/>
<line x1="312.3" y1="519.0" x2="314.5" y2="519.0" stroke="#505858" stroke-width="0.9"/>
<line x1="435.3" y1="519.0" x2="437.5" y2="519.0" stroke="#505858" stroke-width="0.9"/>
<line x1="312.3" y1="512.4" x2="314.5" y2="512.4" stroke="#505858" stroke-width="0.9"/>
<line x1="435.3" y1="512.4" x2="437.5" y2="512.4" stroke="#505858" stroke-width="0.9"/>
<line x1="312.3" y1="505.8" x2="316.5" y2="505.8" stroke="#505858" stroke-width="0.9"/>
<line x1="433.3" y1="505.8" x2="437.5" y2="505.8" stroke="#505858" stroke-width="0.9"/>
<line x1="312.3" y1="499.2" x2="314.5" y2="499.2" stroke="#505858" stroke-width="0.9"/>
<line x1="435.3" y1="499.2" x2="437.5" y2="499.2" stroke="#505858" stroke-width="0.9"/>
<line x1="312.3" y1="492.6" x2="314.5" y2="492.6" stroke="#505858" stroke-width="0.9"/>
<line x1="435.3" y1="492.6" x2="437.5" y2="492.6" stroke="#505858" stroke-width="0.9"/>
<line x1="312.3" y1="486.0" x2="314.5" y2="486.0" stroke="#505858" stroke-width="0.9"/>
<line x1="435.3" y1="486.0" x2="437.5" y2="486.0" stroke="#505858" stroke-width="0.9"/>
<line x1="312.3" y1="479.4" x2="316.5" y2="479.4" stroke="#505858" stroke-width="0.9"/>
<line x1="433.3" y1="479.4" x2="437.5" y2="479.4" stroke="#505858" stroke-width="0.9"/>
<line x1="312.3" y1="472.9" x2="314.5" y2="472.9" stroke="#505858" stroke-width="0.9"/>
<line x1="435.3" y1="472.9" x2="437.5" y2="472.9" stroke="#505858" stroke-width="0.9"/>
<line x1="312.3" y1="466.3" x2="314.5" y2="466.3" stroke="#505858" stroke-width="0.9"/>
<line x1="435.3" y1="466.3" x2="437.5" y2="466.3" stroke="#505858" stroke-width="0.9"/>
<line x1="312.3" y1="459.7" x2="314.5" y2="459.7" stroke="#505858" stroke-width="0.9"/>
<line x1="435.3" y1="459.7" x2="437.5" y2="459.7" stroke="#505858" stroke-width="0.9"/>
<line x1="312.3" y1="453.1" x2="316.5" y2="453.1" stroke="#505858" stroke-width="0.9"/>
<line x1="433.3" y1="453.1" x2="437.5" y2="453.1" stroke="#505858" stroke-width="0.9"/>
<line x1="312.3" y1="446.5" x2="314.5" y2="446.5" stroke="#505858" stroke-width="0.9"/>
<line x1="435.3" y1="446.5" x2="437.5" y2="446.5" stroke="#505858" stroke-width="0.9"/>
<line x1="312.3" y1="439.9" x2="314.5" y2="439.9" stroke="#505858" stroke-width="0.9"/>
<line x1="435.3" y1="439.9" x2="437.5" y2="439.9" stroke="#505858" stroke-width="0.9"/>
<line x1="312.3" y1="433.3" x2="314.5" y2="433.3" stroke="#505858" stroke-width="0.9"/>
<line x1="435.3" y1="433.3" x2="437.5" y2="433.3" stroke="#505858" stroke-width="0.9"/>
<line x1="312.3" y1="426.8" x2="316.5" y2="426.8" stroke="#505858" stroke-width="0.9"/>
<line x1="433.3" y1="426.8" x2="437.5" y2="426.8" stroke="#505858" stroke-width="0.9"/>
<line x1="473.0" y1="426.5" x2="473.0" y2="429.5" stroke="#505858" stroke-width="0.9"/>
<line x1="473.0" y1="585.3" x2="473.0" y2="582.3" stroke="#505858" stroke-width="0.9"/>
<line x1="508.5" y1="426.5" x2="508.5" y2="429.5" stroke="#505858" stroke-width="0.9"/>
<line x1="508.5" y1="585.3" x2="508.5" y2="582.3" stroke="#505858" stroke-width="0.9"/>
<line x1="312.3" y1="426.5" x2="543.5" y2="426.5" stroke="#7b8585" stroke-width="1.4"/>
<line x1="543.0" y1="426.5" x2="543.0" y2="585.3" stroke="#9aa4a4" stroke-width="1.1"/>
<line x1="311.4" y1="585.3" x2="543.5" y2="585.3" stroke="#7b8585" stroke-width="1.9"/>
<line x1="312.3" y1="425.8" x2="312.3" y2="586.2" stroke="#7b8585" stroke-width="1.9"/>
<line x1="437.5" y1="425.8" x2="437.5" y2="586.2" stroke="#475050" stroke-width="1.35"/>
<line x1="340.8" y1="531.6" x2="340.8" y2="485.0" stroke="#14a014" stroke-width="2.1"/>
<path d="M340.8,482.0 L337.8,486.2 L343.8,486.2 Z" fill="#14a014"/>
<rect x="315.5" y="432.3" width="34.7" height="15.9" fill="#fff" stroke="#3a3e3e" stroke-width="1.4"/>
<text x="333.1" y="443.4" font-size="9.3" fill="#111" stroke="#111" stroke-width="0.42" text-anchor="middle" font-family="'Liberation Sans', Arial, Helvetica, sans-serif">O<tspan font-size="7" dx="0.2" dy="-0.6">-</tspan><tspan dx="0.2" dy="0.6">PtS</tspan><tspan font-size="6.4" dy="2">2</tspan></text>
<text x="308.7" y="431.2" font-size="10" fill="#111" stroke="#111" stroke-width="0.4" text-anchor="end" font-family="'Liberation Sans', Arial, Helvetica, sans-serif">3</text>
<text x="308.7" y="457.6" font-size="10" fill="#111" stroke="#111" stroke-width="0.4" text-anchor="end" font-family="'Liberation Sans', Arial, Helvetica, sans-serif">2</text>
<text x="308.7" y="483.9" font-size="10" fill="#111" stroke="#111" stroke-width="0.4" text-anchor="end" font-family="'Liberation Sans', Arial, Helvetica, sans-serif">1</text>
<text x="308.7" y="510.3" font-size="10" fill="#111" stroke="#111" stroke-width="0.4" text-anchor="end" font-family="'Liberation Sans', Arial, Helvetica, sans-serif">0</text>
<text x="308.7" y="536.6" font-size="10" fill="#111" stroke="#111" stroke-width="0.4" text-anchor="end" font-family="'Liberation Sans', Arial, Helvetica, sans-serif">-1</text>
<text x="308.7" y="563.0" font-size="10" fill="#111" stroke="#111" stroke-width="0.4" text-anchor="end" font-family="'Liberation Sans', Arial, Helvetica, sans-serif">-2</text>
<text x="308.7" y="589.4" font-size="10" fill="#111" stroke="#111" stroke-width="0.4" text-anchor="end" font-family="'Liberation Sans', Arial, Helvetica, sans-serif">-3</text>
<text x="312.7" y="596.4" font-size="9.9" fill="#111" stroke="#111" stroke-width="0.55" text-anchor="middle" font-family="'Liberation Sans', Arial, Helvetica, sans-serif">Γ</text>
<text x="338.2" y="596.4" font-size="9.9" fill="#111" stroke="#111" stroke-width="0.55" text-anchor="middle" font-family="'Liberation Sans', Arial, Helvetica, sans-serif">Λ</text>
<text x="365.4" y="596.4" font-size="9.9" fill="#111" stroke="#111" stroke-width="0.55" text-anchor="middle" font-family="'Liberation Sans', Arial, Helvetica, sans-serif">K</text>
<text x="391.9" y="596.4" font-size="9.9" fill="#111" stroke="#111" stroke-width="0.55" text-anchor="middle" font-family="'Liberation Sans', Arial, Helvetica, sans-serif">M</text>
<text x="437.9" y="596.4" font-size="9.9" fill="#111" stroke="#111" stroke-width="0.55" text-anchor="middle" font-family="'Liberation Sans', Arial, Helvetica, sans-serif">Γ</text>
<text x="473.0" y="596.9" font-size="8.6" fill="#111" stroke="#111" stroke-width="0.35" text-anchor="middle" font-family="'Liberation Sans', Arial, Helvetica, sans-serif">2.5</text>
<text x="508.5" y="596.9" font-size="8.6" fill="#111" stroke="#111" stroke-width="0.35" text-anchor="middle" font-family="'Liberation Sans', Arial, Helvetica, sans-serif">5</text>
<text x="490.8" y="613.8" font-size="11.4" fill="#111" stroke="#111" stroke-width="0.35" text-anchor="middle" font-family="'Liberation Sans', Arial, Helvetica, sans-serif">DOS (eV<tspan font-size="7" dy="-4.5">-</tspan><tspan font-size="7.6">1</tspan><tspan dy="4.5">cell</tspan><tspan font-size="7" dy="-4.5">-</tspan><tspan font-size="7.6">1</tspan><tspan dy="4.5">)</tspan></text>
<text transform="translate(294.0,504.9) rotate(-90)" font-size="13" fill="#111" stroke="#111" stroke-width="0.5" text-anchor="middle" font-family="'Liberation Sans', Arial, Helvetica, sans-serif">Energy (eV)</text>
</svg>
</body></html>
